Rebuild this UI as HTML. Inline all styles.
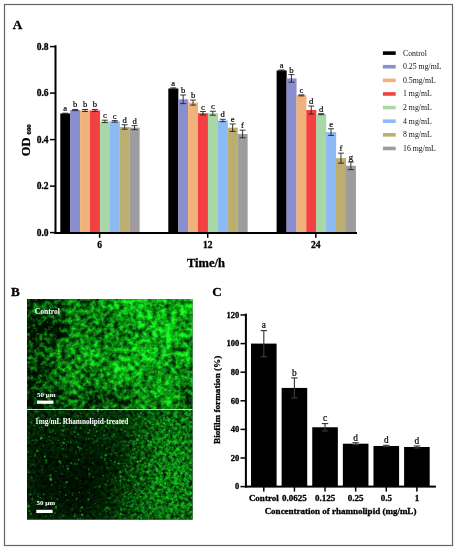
<!DOCTYPE html>
<html><head><meta charset="utf-8"><title>Figure</title>
<style>
html,body{margin:0;padding:0;background:#fff;}
body{width:456px;height:550px;overflow:hidden;}
svg{display:block;font-family:'Liberation Serif', 'DejaVu Serif', serif;}
</style></head><body>
<svg width="456" height="550" viewBox="0 0 456 550">
<rect x="0" y="0" width="456" height="550" fill="#fff"/>
<defs>
<filter id="fTop" x="0" y="0" width="100%" height="100%" color-interpolation-filters="sRGB">
  <feTurbulence type="fractalNoise" baseFrequency="0.21" numOctaves="3" seed="11" result="n"/>
  <feColorMatrix in="n" type="matrix" values="1 0 0 0 0  1 0 0 0 0  1 0 0 0 0  0 0 0 0 1" result="t"/>
  <feTurbulence type="fractalNoise" baseFrequency="0.05" numOctaves="2" seed="4" result="n2"/>
  <feColorMatrix in="n2" type="matrix" values="0 1 0 0 0  0 1 0 0 0  0 1 0 0 0  0 0 0 0 1" result="t2"/>
  <feComposite in="SourceGraphic" in2="t2" operator="arithmetic" k1="0" k2="1.0" k3="0.4" k4="-0.2" result="s2"/>
  <feComposite in="s2" in2="t" operator="arithmetic" k1="0" k2="1.25" k3="1.75" k4="-0.98" result="v0"/>
  <feGaussianBlur in="v0" stdDeviation="0.55" result="v1"/>
  <feComposite in="v1" in2="s2" operator="arithmetic" k1="0" k2="0.8" k3="0.32" k4="-0.05" result="v"/>
  <feColorMatrix in="v" type="matrix" values="0 0.09 0 0 0.0  0 1 0 0 0.05  0 0.14 0 0 0.0  0 0 0 0 1"/>
</filter>
<filter id="hzg" x="-10%" y="-10%" width="120%" height="120%" color-interpolation-filters="sRGB"><feGaussianBlur stdDeviation="6"/></filter>
<filter id="hz" x="-10%" y="-10%" width="120%" height="120%" color-interpolation-filters="sRGB">
<feGaussianBlur stdDeviation="7" result="g"/>
<feTurbulence type="fractalNoise" baseFrequency="0.27" numOctaves="3" seed="21" result="n"/>
<feColorMatrix in="n" type="matrix" values="1 0 0 0 0  1 0 0 0 0  1 0 0 0 0  0 0 0 0 1" result="t"/>
<feComposite in="g" in2="t" operator="arithmetic" k1="3.0" k2="-0.5" k3="0" k4="0" result="m"/>
<feGaussianBlur in="m" stdDeviation="0.5"/>
</filter>
<filter id="b1" x="0" y="0" width="100%" height="100%" color-interpolation-filters="sRGB">
<feGaussianBlur stdDeviation="0.7" result="g"/>
<feTurbulence type="fractalNoise" baseFrequency="0.12" numOctaves="3" seed="8" result="n"/>
<feColorMatrix in="n" type="matrix" values="1 0 0 0 0  1 0 0 0 0  1 0 0 0 0  0 0 0 0 1" result="t"/>
<feComposite in="g" in2="t" operator="arithmetic" k1="2.6" k2="-0.3" k3="0" k4="0"/>
</filter>
<filter id="b2" x="-5%" y="-5%" width="110%" height="110%" color-interpolation-filters="sRGB"><feGaussianBlur stdDeviation="0.55"/></filter>
<clipPath id="cTop"><rect x="27.0" y="299.0" width="165.5" height="110.5"/></clipPath>
<clipPath id="cBot"><rect x="27.0" y="410.0" width="165.5" height="109.5"/></clipPath>
</defs>
<rect x="27.0" y="299.0" width="165.5" height="220.5" fill="#04200a"/>
<g clip-path="url(#cTop)">
<g filter="url(#fTop)">
<rect x="7" y="279" width="206" height="150" fill="#6a6a6a"/>
<g filter="url(#hzg)">
<rect x="6.5" y="278.5" width="41.7" height="43.0" fill="rgb(60,60,60)"/>
<rect x="47.2" y="278.5" width="21.7" height="43.0" fill="rgb(60,60,60)"/>
<rect x="67.9" y="278.5" width="21.7" height="43.0" fill="rgb(110,110,110)"/>
<rect x="88.6" y="278.5" width="21.7" height="43.0" fill="rgb(112,112,112)"/>
<rect x="109.2" y="278.5" width="21.7" height="43.0" fill="rgb(136,136,136)"/>
<rect x="129.9" y="278.5" width="21.7" height="43.0" fill="rgb(156,156,156)"/>
<rect x="150.6" y="278.5" width="21.7" height="43.0" fill="rgb(148,148,148)"/>
<rect x="171.3" y="278.5" width="41.7" height="43.0" fill="rgb(144,144,144)"/>
<rect x="6.5" y="320.5" width="41.7" height="23.0" fill="rgb(56,56,56)"/>
<rect x="47.2" y="320.5" width="21.7" height="23.0" fill="rgb(32,32,32)"/>
<rect x="67.9" y="320.5" width="21.7" height="23.0" fill="rgb(108,108,108)"/>
<rect x="88.6" y="320.5" width="21.7" height="23.0" fill="rgb(96,96,96)"/>
<rect x="109.2" y="320.5" width="21.7" height="23.0" fill="rgb(112,112,112)"/>
<rect x="129.9" y="320.5" width="21.7" height="23.0" fill="rgb(140,140,140)"/>
<rect x="150.6" y="320.5" width="21.7" height="23.0" fill="rgb(148,148,148)"/>
<rect x="171.3" y="320.5" width="41.7" height="23.0" fill="rgb(136,136,136)"/>
<rect x="6.5" y="342.5" width="41.7" height="23.0" fill="rgb(56,56,56)"/>
<rect x="47.2" y="342.5" width="21.7" height="23.0" fill="rgb(104,104,104)"/>
<rect x="67.9" y="342.5" width="21.7" height="23.0" fill="rgb(120,120,120)"/>
<rect x="88.6" y="342.5" width="21.7" height="23.0" fill="rgb(124,124,124)"/>
<rect x="109.2" y="342.5" width="21.7" height="23.0" fill="rgb(136,136,136)"/>
<rect x="129.9" y="342.5" width="21.7" height="23.0" fill="rgb(148,148,148)"/>
<rect x="150.6" y="342.5" width="21.7" height="23.0" fill="rgb(148,148,148)"/>
<rect x="171.3" y="342.5" width="41.7" height="23.0" fill="rgb(136,136,136)"/>
<rect x="6.5" y="364.5" width="41.7" height="23.0" fill="rgb(56,56,56)"/>
<rect x="47.2" y="364.5" width="21.7" height="23.0" fill="rgb(100,100,100)"/>
<rect x="67.9" y="364.5" width="21.7" height="23.0" fill="rgb(112,112,112)"/>
<rect x="88.6" y="364.5" width="21.7" height="23.0" fill="rgb(124,124,124)"/>
<rect x="109.2" y="364.5" width="21.7" height="23.0" fill="rgb(136,136,136)"/>
<rect x="129.9" y="364.5" width="21.7" height="23.0" fill="rgb(140,140,140)"/>
<rect x="150.6" y="364.5" width="21.7" height="23.0" fill="rgb(132,132,132)"/>
<rect x="171.3" y="364.5" width="41.7" height="23.0" fill="rgb(124,124,124)"/>
<rect x="6.5" y="386.5" width="41.7" height="43.0" fill="rgb(40,40,40)"/>
<rect x="47.2" y="386.5" width="21.7" height="43.0" fill="rgb(56,56,56)"/>
<rect x="67.9" y="386.5" width="21.7" height="43.0" fill="rgb(80,80,80)"/>
<rect x="88.6" y="386.5" width="21.7" height="43.0" fill="rgb(56,56,56)"/>
<rect x="109.2" y="386.5" width="21.7" height="43.0" fill="rgb(72,72,72)"/>
<rect x="129.9" y="386.5" width="21.7" height="43.0" fill="rgb(108,108,108)"/>
<rect x="150.6" y="386.5" width="21.7" height="43.0" fill="rgb(120,120,120)"/>
<rect x="171.3" y="386.5" width="41.7" height="43.0" fill="rgb(92,92,92)"/>
</g>
</g>
</g>
<g clip-path="url(#cBot)">
<g filter="url(#hz)">
<rect x="7" y="390" width="206" height="150" fill="#063209"/>
<rect x="26.5" y="409.5" width="21.7" height="22.9" fill="rgb(2,34,4)"/>
<rect x="47.2" y="409.5" width="21.7" height="22.9" fill="rgb(2,37,4)"/>
<rect x="67.9" y="409.5" width="21.7" height="22.9" fill="rgb(2,37,4)"/>
<rect x="88.6" y="409.5" width="21.7" height="22.9" fill="rgb(2,40,4)"/>
<rect x="109.2" y="409.5" width="21.7" height="22.9" fill="rgb(3,46,5)"/>
<rect x="129.9" y="409.5" width="21.7" height="22.9" fill="rgb(4,69,8)"/>
<rect x="150.6" y="409.5" width="21.7" height="22.9" fill="rgb(6,96,11)"/>
<rect x="171.3" y="409.5" width="21.7" height="22.9" fill="rgb(7,108,12)"/>
<rect x="26.5" y="431.4" width="21.7" height="22.9" fill="rgb(1,24,2)"/>
<rect x="47.2" y="431.4" width="21.7" height="22.9" fill="rgb(1,27,3)"/>
<rect x="67.9" y="431.4" width="21.7" height="22.9" fill="rgb(1,27,3)"/>
<rect x="88.6" y="431.4" width="21.7" height="22.9" fill="rgb(2,31,3)"/>
<rect x="109.2" y="431.4" width="21.7" height="22.9" fill="rgb(2,40,4)"/>
<rect x="129.9" y="431.4" width="21.7" height="22.9" fill="rgb(4,69,8)"/>
<rect x="150.6" y="431.4" width="21.7" height="22.9" fill="rgb(7,102,12)"/>
<rect x="171.3" y="431.4" width="21.7" height="22.9" fill="rgb(7,114,13)"/>
<rect x="26.5" y="453.3" width="21.7" height="22.9" fill="rgb(1,21,2)"/>
<rect x="47.2" y="453.3" width="21.7" height="22.9" fill="rgb(1,21,2)"/>
<rect x="67.9" y="453.3" width="21.7" height="22.9" fill="rgb(1,18,2)"/>
<rect x="88.6" y="453.3" width="21.7" height="22.9" fill="rgb(1,21,2)"/>
<rect x="109.2" y="453.3" width="21.7" height="22.9" fill="rgb(2,37,4)"/>
<rect x="129.9" y="453.3" width="21.7" height="22.9" fill="rgb(5,74,8)"/>
<rect x="150.6" y="453.3" width="21.7" height="22.9" fill="rgb(7,105,12)"/>
<rect x="171.3" y="453.3" width="21.7" height="22.9" fill="rgb(8,117,14)"/>
<rect x="26.5" y="475.2" width="21.7" height="22.9" fill="rgb(1,21,2)"/>
<rect x="47.2" y="475.2" width="21.7" height="22.9" fill="rgb(1,18,2)"/>
<rect x="67.9" y="475.2" width="21.7" height="22.9" fill="rgb(1,15,1)"/>
<rect x="88.6" y="475.2" width="21.7" height="22.9" fill="rgb(1,21,2)"/>
<rect x="109.2" y="475.2" width="21.7" height="22.9" fill="rgb(3,43,5)"/>
<rect x="129.9" y="475.2" width="21.7" height="22.9" fill="rgb(5,80,9)"/>
<rect x="150.6" y="475.2" width="21.7" height="22.9" fill="rgb(7,108,12)"/>
<rect x="171.3" y="475.2" width="21.7" height="22.9" fill="rgb(8,117,14)"/>
<rect x="26.5" y="497.1" width="21.7" height="22.9" fill="rgb(1,24,2)"/>
<rect x="47.2" y="497.1" width="21.7" height="22.9" fill="rgb(1,21,2)"/>
<rect x="67.9" y="497.1" width="21.7" height="22.9" fill="rgb(1,18,2)"/>
<rect x="88.6" y="497.1" width="21.7" height="22.9" fill="rgb(1,27,3)"/>
<rect x="109.2" y="497.1" width="21.7" height="22.9" fill="rgb(3,52,6)"/>
<rect x="129.9" y="497.1" width="21.7" height="22.9" fill="rgb(6,86,10)"/>
<rect x="150.6" y="497.1" width="21.7" height="22.9" fill="rgb(7,108,12)"/>
<rect x="171.3" y="497.1" width="21.7" height="22.9" fill="rgb(7,114,13)"/>
</g>
<g filter="url(#b2)" fill="#30d83c">
<circle cx="132.8" cy="412.7" r="0.5" opacity="0.47"/>
<circle cx="139.0" cy="507.7" r="0.7" opacity="0.13"/>
<circle cx="63.2" cy="465.3" r="0.5" opacity="0.43"/>
<circle cx="142.5" cy="447.3" r="1.2" opacity="0.28"/>
<circle cx="115.7" cy="516.6" r="0.8" opacity="0.52"/>
<circle cx="143.6" cy="415.0" r="0.6" opacity="0.16"/>
<circle cx="65.5" cy="421.1" r="0.8" opacity="0.30"/>
<circle cx="88.3" cy="432.9" r="1.2" opacity="0.43"/>
<circle cx="166.5" cy="495.0" r="0.5" opacity="0.27"/>
<circle cx="172.0" cy="444.5" r="0.6" opacity="0.56"/>
<circle cx="102.9" cy="439.0" r="0.8" opacity="0.25"/>
<circle cx="123.7" cy="508.3" r="0.5" opacity="0.60"/>
<circle cx="111.3" cy="420.0" r="0.5" opacity="0.42"/>
<circle cx="158.1" cy="456.2" r="0.6" opacity="0.60"/>
<circle cx="184.9" cy="505.9" r="0.7" opacity="0.21"/>
<circle cx="178.0" cy="505.3" r="0.8" opacity="0.41"/>
<circle cx="155.9" cy="468.1" r="0.6" opacity="0.13"/>
<circle cx="183.7" cy="419.4" r="0.5" opacity="0.49"/>
<circle cx="153.7" cy="424.1" r="0.8" opacity="0.25"/>
<circle cx="171.4" cy="456.3" r="0.7" opacity="0.47"/>
<circle cx="124.4" cy="435.2" r="0.5" opacity="0.42"/>
<circle cx="160.6" cy="430.8" r="0.7" opacity="0.32"/>
<circle cx="189.9" cy="420.8" r="0.6" opacity="0.53"/>
<circle cx="96.8" cy="440.5" r="1.2" opacity="0.33"/>
<circle cx="169.6" cy="470.3" r="1.2" opacity="0.52"/>
<circle cx="191.7" cy="470.9" r="0.5" opacity="0.26"/>
<circle cx="187.3" cy="473.4" r="1.0" opacity="0.15"/>
<circle cx="53.1" cy="515.2" r="0.5" opacity="0.41"/>
<circle cx="138.7" cy="435.8" r="1.1" opacity="0.24"/>
<circle cx="79.3" cy="492.3" r="0.7" opacity="0.60"/>
<circle cx="191.9" cy="418.0" r="0.5" opacity="0.57"/>
<circle cx="172.8" cy="506.3" r="0.5" opacity="0.52"/>
<circle cx="49.2" cy="422.6" r="0.8" opacity="0.25"/>
<circle cx="127.1" cy="488.6" r="0.8" opacity="0.25"/>
<circle cx="97.8" cy="411.1" r="1.1" opacity="0.55"/>
<circle cx="175.8" cy="433.0" r="0.5" opacity="0.49"/>
<circle cx="173.3" cy="454.5" r="0.5" opacity="0.57"/>
<circle cx="170.0" cy="498.8" r="1.0" opacity="0.17"/>
<circle cx="171.3" cy="504.0" r="1.0" opacity="0.34"/>
<circle cx="170.1" cy="515.9" r="0.8" opacity="0.31"/>
<circle cx="46.1" cy="516.3" r="1.2" opacity="0.25"/>
<circle cx="138.0" cy="449.9" r="0.9" opacity="0.28"/>
<circle cx="93.6" cy="442.4" r="0.6" opacity="0.57"/>
<circle cx="76.8" cy="470.0" r="0.6" opacity="0.33"/>
<circle cx="176.1" cy="497.2" r="0.5" opacity="0.37"/>
<circle cx="151.3" cy="483.7" r="0.5" opacity="0.13"/>
<circle cx="67.4" cy="481.8" r="1.0" opacity="0.49"/>
<circle cx="44.6" cy="456.6" r="1.2" opacity="0.37"/>
<circle cx="174.5" cy="477.1" r="0.7" opacity="0.52"/>
<circle cx="105.6" cy="438.4" r="0.8" opacity="0.49"/>
<circle cx="113.3" cy="478.6" r="0.5" opacity="0.26"/>
<circle cx="143.9" cy="417.0" r="0.8" opacity="0.32"/>
<circle cx="153.7" cy="451.7" r="0.6" opacity="0.48"/>
<circle cx="168.2" cy="514.4" r="1.0" opacity="0.38"/>
<circle cx="126.8" cy="434.1" r="0.7" opacity="0.13"/>
<circle cx="54.3" cy="461.2" r="0.8" opacity="0.13"/>
<circle cx="92.2" cy="471.8" r="0.8" opacity="0.19"/>
<circle cx="68.8" cy="419.0" r="0.7" opacity="0.60"/>
<circle cx="60.0" cy="412.2" r="0.5" opacity="0.44"/>
<circle cx="153.9" cy="428.4" r="1.0" opacity="0.17"/>
<circle cx="162.6" cy="515.6" r="0.5" opacity="0.27"/>
<circle cx="139.1" cy="514.9" r="0.9" opacity="0.16"/>
<circle cx="141.3" cy="478.7" r="1.0" opacity="0.53"/>
<circle cx="156.5" cy="448.0" r="0.6" opacity="0.36"/>
<circle cx="164.2" cy="487.5" r="0.9" opacity="0.58"/>
<circle cx="31.7" cy="503.2" r="0.5" opacity="0.50"/>
<circle cx="152.5" cy="485.6" r="0.7" opacity="0.50"/>
<circle cx="68.6" cy="423.2" r="0.5" opacity="0.38"/>
<circle cx="153.1" cy="430.3" r="0.7" opacity="0.47"/>
<circle cx="188.6" cy="467.4" r="0.5" opacity="0.21"/>
<circle cx="64.6" cy="429.6" r="0.7" opacity="0.25"/>
<circle cx="188.2" cy="470.6" r="0.5" opacity="0.54"/>
<circle cx="104.7" cy="458.2" r="0.5" opacity="0.57"/>
<circle cx="39.3" cy="478.9" r="0.5" opacity="0.39"/>
<circle cx="77.3" cy="518.8" r="1.0" opacity="0.41"/>
<circle cx="157.9" cy="434.7" r="0.7" opacity="0.33"/>
<circle cx="169.4" cy="518.4" r="0.8" opacity="0.41"/>
<circle cx="149.5" cy="513.8" r="0.5" opacity="0.44"/>
<circle cx="53.0" cy="429.0" r="0.5" opacity="0.34"/>
<circle cx="125.3" cy="441.9" r="0.9" opacity="0.46"/>
<circle cx="157.4" cy="478.4" r="1.2" opacity="0.32"/>
<circle cx="163.8" cy="417.8" r="0.6" opacity="0.48"/>
<circle cx="121.2" cy="441.6" r="0.9" opacity="0.46"/>
<circle cx="183.0" cy="464.8" r="0.5" opacity="0.14"/>
<circle cx="98.5" cy="445.3" r="0.5" opacity="0.58"/>
<circle cx="192.4" cy="483.6" r="0.5" opacity="0.48"/>
<circle cx="108.4" cy="420.0" r="0.6" opacity="0.44"/>
<circle cx="169.0" cy="446.1" r="0.6" opacity="0.57"/>
<circle cx="161.6" cy="470.2" r="0.6" opacity="0.28"/>
<circle cx="187.6" cy="454.3" r="1.2" opacity="0.44"/>
<circle cx="116.8" cy="455.3" r="0.6" opacity="0.48"/>
<circle cx="130.5" cy="493.2" r="0.8" opacity="0.57"/>
<circle cx="99.5" cy="486.5" r="1.2" opacity="0.41"/>
<circle cx="178.1" cy="460.5" r="1.0" opacity="0.36"/>
<circle cx="145.6" cy="465.7" r="1.0" opacity="0.59"/>
<circle cx="162.8" cy="441.0" r="0.8" opacity="0.60"/>
<circle cx="102.4" cy="445.2" r="0.9" opacity="0.39"/>
<circle cx="65.7" cy="494.9" r="0.9" opacity="0.46"/>
<circle cx="161.3" cy="452.3" r="1.0" opacity="0.59"/>
<circle cx="152.7" cy="505.5" r="0.5" opacity="0.42"/>
<circle cx="179.4" cy="519.2" r="0.7" opacity="0.17"/>
<circle cx="131.9" cy="505.5" r="0.9" opacity="0.55"/>
<circle cx="120.7" cy="496.8" r="0.5" opacity="0.54"/>
<circle cx="176.2" cy="484.2" r="0.7" opacity="0.29"/>
<circle cx="109.2" cy="509.0" r="1.0" opacity="0.41"/>
<circle cx="134.0" cy="443.8" r="0.8" opacity="0.47"/>
<circle cx="163.1" cy="513.0" r="0.5" opacity="0.13"/>
<circle cx="177.5" cy="443.1" r="0.5" opacity="0.57"/>
<circle cx="77.4" cy="463.9" r="1.1" opacity="0.19"/>
<circle cx="183.6" cy="455.9" r="0.5" opacity="0.32"/>
<circle cx="184.5" cy="413.6" r="0.7" opacity="0.58"/>
<circle cx="168.6" cy="420.9" r="0.8" opacity="0.59"/>
<circle cx="86.4" cy="453.6" r="0.5" opacity="0.53"/>
<circle cx="38.4" cy="493.8" r="0.5" opacity="0.54"/>
<circle cx="27.5" cy="504.0" r="0.5" opacity="0.24"/>
<circle cx="55.9" cy="482.4" r="0.5" opacity="0.50"/>
<circle cx="66.4" cy="445.5" r="0.5" opacity="0.48"/>
<circle cx="155.8" cy="466.2" r="0.7" opacity="0.57"/>
<circle cx="38.1" cy="501.1" r="0.5" opacity="0.47"/>
<circle cx="161.3" cy="470.9" r="0.8" opacity="0.28"/>
<circle cx="187.3" cy="475.7" r="0.8" opacity="0.22"/>
<circle cx="135.7" cy="434.6" r="1.1" opacity="0.30"/>
<circle cx="128.5" cy="480.4" r="1.2" opacity="0.52"/>
<circle cx="78.1" cy="447.2" r="1.1" opacity="0.39"/>
<circle cx="146.4" cy="495.1" r="0.5" opacity="0.15"/>
<circle cx="28.3" cy="443.0" r="0.5" opacity="0.24"/>
<circle cx="38.9" cy="504.4" r="0.5" opacity="0.56"/>
<circle cx="169.7" cy="473.0" r="0.9" opacity="0.32"/>
<circle cx="161.9" cy="435.9" r="0.5" opacity="0.41"/>
<circle cx="152.8" cy="481.8" r="1.0" opacity="0.36"/>
<circle cx="151.9" cy="493.2" r="1.2" opacity="0.39"/>
<circle cx="130.8" cy="426.5" r="0.7" opacity="0.27"/>
<circle cx="78.4" cy="459.5" r="1.0" opacity="0.16"/>
<circle cx="170.0" cy="503.7" r="0.7" opacity="0.34"/>
<circle cx="80.2" cy="462.1" r="0.5" opacity="0.17"/>
<circle cx="175.8" cy="447.6" r="0.7" opacity="0.20"/>
<circle cx="177.0" cy="505.6" r="0.8" opacity="0.19"/>
<circle cx="149.3" cy="485.1" r="0.8" opacity="0.32"/>
<circle cx="86.9" cy="449.7" r="0.5" opacity="0.57"/>
<circle cx="107.5" cy="434.8" r="0.5" opacity="0.53"/>
<circle cx="173.2" cy="414.1" r="1.0" opacity="0.18"/>
<circle cx="154.6" cy="498.6" r="0.7" opacity="0.32"/>
<circle cx="138.9" cy="436.0" r="0.6" opacity="0.48"/>
<circle cx="159.6" cy="425.2" r="0.8" opacity="0.54"/>
<circle cx="72.1" cy="509.1" r="0.7" opacity="0.57"/>
<circle cx="134.6" cy="496.7" r="0.6" opacity="0.52"/>
<circle cx="101.2" cy="410.6" r="0.5" opacity="0.52"/>
<circle cx="128.8" cy="436.3" r="0.9" opacity="0.16"/>
<circle cx="188.3" cy="417.4" r="0.7" opacity="0.59"/>
<circle cx="132.2" cy="517.4" r="0.5" opacity="0.50"/>
<circle cx="154.7" cy="490.5" r="0.5" opacity="0.38"/>
<circle cx="102.7" cy="442.1" r="0.5" opacity="0.14"/>
<circle cx="170.3" cy="446.3" r="0.6" opacity="0.55"/>
<circle cx="150.0" cy="508.0" r="1.2" opacity="0.36"/>
<circle cx="159.6" cy="489.6" r="0.8" opacity="0.51"/>
<circle cx="117.3" cy="445.2" r="0.9" opacity="0.27"/>
<circle cx="189.2" cy="513.8" r="0.8" opacity="0.29"/>
<circle cx="79.9" cy="448.0" r="0.8" opacity="0.55"/>
<circle cx="132.5" cy="496.9" r="0.5" opacity="0.22"/>
<circle cx="50.0" cy="496.5" r="0.8" opacity="0.30"/>
<circle cx="160.0" cy="470.4" r="0.5" opacity="0.27"/>
<circle cx="192.4" cy="488.7" r="1.0" opacity="0.52"/>
<circle cx="172.3" cy="495.4" r="0.5" opacity="0.58"/>
<circle cx="98.6" cy="509.7" r="0.5" opacity="0.19"/>
<circle cx="167.0" cy="437.4" r="0.8" opacity="0.18"/>
<circle cx="54.9" cy="513.1" r="0.9" opacity="0.47"/>
<circle cx="163.6" cy="413.1" r="0.8" opacity="0.40"/>
<circle cx="134.8" cy="494.0" r="0.8" opacity="0.36"/>
<circle cx="76.2" cy="418.0" r="0.7" opacity="0.35"/>
<circle cx="188.4" cy="424.3" r="0.8" opacity="0.27"/>
<circle cx="104.2" cy="439.3" r="0.5" opacity="0.26"/>
<circle cx="170.2" cy="427.5" r="0.8" opacity="0.27"/>
<circle cx="153.3" cy="464.6" r="0.7" opacity="0.27"/>
<circle cx="187.0" cy="433.6" r="0.5" opacity="0.36"/>
<circle cx="173.0" cy="481.6" r="0.7" opacity="0.53"/>
<circle cx="153.4" cy="450.1" r="0.8" opacity="0.21"/>
<circle cx="182.4" cy="492.7" r="0.7" opacity="0.36"/>
<circle cx="115.1" cy="487.6" r="1.0" opacity="0.30"/>
<circle cx="138.5" cy="517.3" r="1.0" opacity="0.47"/>
<circle cx="140.9" cy="412.9" r="1.2" opacity="0.50"/>
<circle cx="129.6" cy="502.1" r="0.9" opacity="0.14"/>
<circle cx="183.9" cy="422.0" r="0.6" opacity="0.19"/>
<circle cx="179.3" cy="505.6" r="0.5" opacity="0.19"/>
<circle cx="114.0" cy="444.4" r="1.1" opacity="0.28"/>
<circle cx="158.6" cy="439.9" r="0.9" opacity="0.30"/>
<circle cx="160.2" cy="441.8" r="0.9" opacity="0.29"/>
<circle cx="114.9" cy="479.9" r="0.6" opacity="0.46"/>
<circle cx="43.6" cy="494.4" r="0.8" opacity="0.57"/>
<circle cx="56.0" cy="506.6" r="1.1" opacity="0.60"/>
<circle cx="28.5" cy="472.2" r="1.2" opacity="0.26"/>
<circle cx="190.7" cy="469.5" r="1.2" opacity="0.53"/>
<circle cx="104.5" cy="431.1" r="0.5" opacity="0.34"/>
<circle cx="163.9" cy="466.4" r="0.9" opacity="0.21"/>
<circle cx="184.9" cy="443.1" r="0.5" opacity="0.43"/>
<circle cx="141.7" cy="416.8" r="0.6" opacity="0.31"/>
<circle cx="171.5" cy="419.0" r="0.9" opacity="0.16"/>
<circle cx="110.7" cy="472.7" r="0.6" opacity="0.37"/>
<circle cx="150.4" cy="473.3" r="0.6" opacity="0.15"/>
<circle cx="191.5" cy="512.3" r="1.2" opacity="0.14"/>
<circle cx="188.9" cy="480.7" r="1.2" opacity="0.30"/>
<circle cx="170.9" cy="509.3" r="0.9" opacity="0.44"/>
<circle cx="147.5" cy="434.4" r="0.5" opacity="0.26"/>
<circle cx="138.5" cy="469.6" r="1.0" opacity="0.24"/>
<circle cx="29.6" cy="432.6" r="0.5" opacity="0.41"/>
<circle cx="93.6" cy="435.7" r="1.1" opacity="0.15"/>
<circle cx="148.1" cy="444.9" r="0.9" opacity="0.27"/>
<circle cx="63.6" cy="442.9" r="1.2" opacity="0.54"/>
<circle cx="177.9" cy="478.5" r="0.7" opacity="0.59"/>
<circle cx="182.8" cy="483.5" r="0.6" opacity="0.32"/>
<circle cx="49.2" cy="436.6" r="0.8" opacity="0.56"/>
<circle cx="126.8" cy="505.7" r="1.0" opacity="0.47"/>
<circle cx="82.1" cy="514.8" r="1.2" opacity="0.58"/>
<circle cx="178.5" cy="470.5" r="0.6" opacity="0.38"/>
<circle cx="63.6" cy="426.0" r="1.2" opacity="0.40"/>
<circle cx="135.3" cy="485.0" r="1.0" opacity="0.58"/>
<circle cx="133.2" cy="463.7" r="1.0" opacity="0.20"/>
<circle cx="116.7" cy="480.3" r="0.5" opacity="0.53"/>
<circle cx="183.4" cy="483.2" r="0.6" opacity="0.52"/>
<circle cx="65.3" cy="487.4" r="0.7" opacity="0.30"/>
<circle cx="107.0" cy="463.4" r="0.8" opacity="0.13"/>
<circle cx="160.4" cy="509.6" r="0.5" opacity="0.19"/>
<circle cx="36.3" cy="411.0" r="0.7" opacity="0.33"/>
<circle cx="42.8" cy="467.8" r="0.5" opacity="0.54"/>
<circle cx="173.9" cy="462.1" r="0.5" opacity="0.56"/>
<circle cx="175.8" cy="471.7" r="1.2" opacity="0.27"/>
<circle cx="186.1" cy="474.3" r="0.9" opacity="0.31"/>
<circle cx="39.7" cy="427.8" r="1.0" opacity="0.31"/>
<circle cx="175.4" cy="446.3" r="0.5" opacity="0.59"/>
<circle cx="92.7" cy="494.7" r="0.6" opacity="0.60"/>
<circle cx="145.0" cy="419.0" r="0.9" opacity="0.42"/>
<circle cx="149.4" cy="444.7" r="0.5" opacity="0.27"/>
<circle cx="86.6" cy="439.5" r="0.5" opacity="0.34"/>
<circle cx="118.8" cy="454.7" r="0.6" opacity="0.16"/>
<circle cx="126.0" cy="445.5" r="0.6" opacity="0.31"/>
<circle cx="188.9" cy="472.6" r="0.6" opacity="0.19"/>
<circle cx="76.8" cy="464.0" r="0.7" opacity="0.32"/>
<circle cx="107.1" cy="418.4" r="0.5" opacity="0.42"/>
<circle cx="125.3" cy="431.4" r="0.6" opacity="0.58"/>
<circle cx="169.2" cy="516.7" r="0.6" opacity="0.57"/>
<circle cx="187.3" cy="441.9" r="0.7" opacity="0.40"/>
<circle cx="144.2" cy="458.0" r="0.9" opacity="0.51"/>
<circle cx="158.7" cy="454.8" r="0.8" opacity="0.24"/>
<circle cx="98.2" cy="411.2" r="0.7" opacity="0.37"/>
<circle cx="109.8" cy="447.8" r="0.5" opacity="0.32"/>
<circle cx="76.7" cy="498.7" r="1.1" opacity="0.43"/>
<circle cx="67.4" cy="429.1" r="0.8" opacity="0.58"/>
<circle cx="65.4" cy="454.4" r="0.8" opacity="0.33"/>
<circle cx="31.8" cy="477.2" r="0.8" opacity="0.31"/>
<circle cx="160.8" cy="416.9" r="1.1" opacity="0.21"/>
<circle cx="169.8" cy="467.8" r="0.8" opacity="0.41"/>
<circle cx="76.2" cy="477.3" r="0.5" opacity="0.18"/>
<circle cx="111.5" cy="455.8" r="0.6" opacity="0.21"/>
<circle cx="192.5" cy="470.8" r="0.5" opacity="0.27"/>
<circle cx="186.5" cy="465.3" r="0.9" opacity="0.32"/>
<circle cx="166.0" cy="463.5" r="0.5" opacity="0.49"/>
<circle cx="153.8" cy="470.2" r="0.5" opacity="0.49"/>
<circle cx="54.5" cy="425.2" r="0.5" opacity="0.15"/>
<circle cx="153.0" cy="484.0" r="0.8" opacity="0.25"/>
<circle cx="172.7" cy="420.2" r="0.6" opacity="0.57"/>
<circle cx="63.1" cy="457.0" r="0.5" opacity="0.52"/>
<circle cx="60.5" cy="485.4" r="0.9" opacity="0.20"/>
<circle cx="181.4" cy="440.0" r="0.5" opacity="0.30"/>
<circle cx="176.6" cy="428.1" r="0.6" opacity="0.46"/>
<circle cx="27.2" cy="462.2" r="0.5" opacity="0.45"/>
<circle cx="190.5" cy="456.2" r="0.5" opacity="0.30"/>
<circle cx="147.9" cy="421.2" r="1.1" opacity="0.19"/>
<circle cx="155.0" cy="492.5" r="1.2" opacity="0.19"/>
<circle cx="169.3" cy="419.5" r="1.0" opacity="0.40"/>
<circle cx="50.1" cy="440.3" r="0.8" opacity="0.41"/>
<circle cx="167.3" cy="482.1" r="0.7" opacity="0.36"/>
<circle cx="150.8" cy="442.4" r="1.1" opacity="0.58"/>
<circle cx="190.3" cy="512.3" r="1.1" opacity="0.39"/>
<circle cx="185.0" cy="494.4" r="0.5" opacity="0.25"/>
<circle cx="95.8" cy="486.8" r="0.7" opacity="0.42"/>
<circle cx="147.8" cy="502.7" r="0.5" opacity="0.33"/>
<circle cx="149.8" cy="491.1" r="0.9" opacity="0.46"/>
<circle cx="156.6" cy="488.9" r="0.5" opacity="0.49"/>
<circle cx="146.6" cy="435.0" r="0.5" opacity="0.53"/>
<circle cx="146.2" cy="439.7" r="0.6" opacity="0.36"/>
<circle cx="189.4" cy="514.5" r="0.7" opacity="0.26"/>
<circle cx="166.8" cy="445.8" r="0.5" opacity="0.22"/>
<circle cx="152.9" cy="436.8" r="0.6" opacity="0.23"/>
<circle cx="184.4" cy="410.2" r="1.1" opacity="0.47"/>
<circle cx="175.5" cy="466.9" r="0.6" opacity="0.59"/>
<circle cx="41.1" cy="420.5" r="1.0" opacity="0.16"/>
<circle cx="159.5" cy="486.7" r="0.6" opacity="0.25"/>
<circle cx="123.8" cy="427.0" r="0.7" opacity="0.32"/>
<circle cx="115.7" cy="515.6" r="0.6" opacity="0.25"/>
<circle cx="163.8" cy="486.3" r="1.1" opacity="0.28"/>
<circle cx="112.0" cy="484.2" r="1.2" opacity="0.13"/>
<circle cx="164.3" cy="446.3" r="0.7" opacity="0.20"/>
<circle cx="122.0" cy="500.0" r="0.5" opacity="0.45"/>
<circle cx="55.6" cy="433.5" r="0.6" opacity="0.54"/>
<circle cx="37.1" cy="440.6" r="0.5" opacity="0.54"/>
<circle cx="178.0" cy="465.0" r="0.5" opacity="0.27"/>
<circle cx="162.1" cy="510.4" r="1.2" opacity="0.23"/>
<circle cx="167.1" cy="497.3" r="1.1" opacity="0.53"/>
<circle cx="142.5" cy="510.1" r="0.9" opacity="0.57"/>
<circle cx="120.3" cy="471.7" r="1.2" opacity="0.54"/>
<circle cx="41.9" cy="435.5" r="0.7" opacity="0.12"/>
<circle cx="178.9" cy="432.1" r="0.9" opacity="0.56"/>
<circle cx="166.7" cy="445.4" r="0.8" opacity="0.56"/>
<circle cx="92.5" cy="421.1" r="0.5" opacity="0.20"/>
<circle cx="63.9" cy="474.5" r="0.6" opacity="0.45"/>
<circle cx="186.7" cy="413.5" r="1.2" opacity="0.58"/>
<circle cx="173.7" cy="458.9" r="0.5" opacity="0.15"/>
<circle cx="69.5" cy="421.8" r="0.6" opacity="0.47"/>
<circle cx="187.4" cy="506.9" r="0.6" opacity="0.38"/>
<circle cx="134.7" cy="485.2" r="0.5" opacity="0.53"/>
<circle cx="54.3" cy="507.4" r="0.5" opacity="0.22"/>
<circle cx="147.8" cy="439.0" r="0.5" opacity="0.14"/>
<circle cx="121.6" cy="502.0" r="0.6" opacity="0.33"/>
<circle cx="60.0" cy="412.8" r="0.6" opacity="0.16"/>
<circle cx="166.6" cy="443.8" r="0.7" opacity="0.44"/>
<circle cx="42.1" cy="469.6" r="1.1" opacity="0.30"/>
<circle cx="64.4" cy="439.4" r="1.0" opacity="0.44"/>
<circle cx="187.7" cy="474.6" r="1.1" opacity="0.51"/>
<circle cx="139.1" cy="477.9" r="1.0" opacity="0.20"/>
<circle cx="178.3" cy="417.3" r="0.6" opacity="0.28"/>
<circle cx="157.2" cy="478.2" r="0.6" opacity="0.32"/>
<circle cx="182.5" cy="511.3" r="0.5" opacity="0.26"/>
<circle cx="33.2" cy="440.2" r="0.8" opacity="0.45"/>
<circle cx="163.7" cy="439.5" r="0.8" opacity="0.21"/>
<circle cx="112.3" cy="427.4" r="0.7" opacity="0.19"/>
<circle cx="167.9" cy="506.3" r="0.5" opacity="0.52"/>
<circle cx="165.5" cy="437.3" r="1.1" opacity="0.46"/>
<circle cx="132.2" cy="423.6" r="0.6" opacity="0.41"/>
<circle cx="151.0" cy="485.4" r="0.6" opacity="0.20"/>
<circle cx="134.1" cy="484.2" r="0.6" opacity="0.13"/>
<circle cx="156.1" cy="494.0" r="1.1" opacity="0.43"/>
<circle cx="126.5" cy="410.9" r="1.0" opacity="0.27"/>
<circle cx="187.0" cy="480.4" r="0.6" opacity="0.29"/>
<circle cx="163.4" cy="453.5" r="0.7" opacity="0.44"/>
<circle cx="166.6" cy="451.0" r="0.8" opacity="0.26"/>
<circle cx="133.0" cy="504.3" r="0.9" opacity="0.55"/>
<circle cx="166.1" cy="506.0" r="0.5" opacity="0.18"/>
<circle cx="107.7" cy="479.1" r="0.8" opacity="0.12"/>
<circle cx="72.3" cy="493.4" r="1.0" opacity="0.35"/>
<circle cx="153.4" cy="419.6" r="0.8" opacity="0.31"/>
<circle cx="186.8" cy="452.0" r="0.5" opacity="0.30"/>
<circle cx="136.6" cy="481.6" r="0.9" opacity="0.32"/>
<circle cx="71.7" cy="476.3" r="1.0" opacity="0.17"/>
<circle cx="146.0" cy="422.9" r="0.5" opacity="0.22"/>
<circle cx="33.5" cy="464.4" r="1.2" opacity="0.28"/>
<circle cx="165.2" cy="483.3" r="0.5" opacity="0.37"/>
<circle cx="146.7" cy="421.1" r="0.5" opacity="0.59"/>
<circle cx="76.0" cy="460.8" r="0.5" opacity="0.14"/>
<circle cx="129.9" cy="506.2" r="1.0" opacity="0.21"/>
<circle cx="134.4" cy="497.3" r="0.9" opacity="0.15"/>
<circle cx="183.0" cy="427.5" r="0.8" opacity="0.51"/>
<circle cx="139.3" cy="429.8" r="0.6" opacity="0.13"/>
<circle cx="48.6" cy="510.8" r="0.6" opacity="0.14"/>
<circle cx="139.2" cy="494.0" r="0.8" opacity="0.59"/>
<circle cx="190.5" cy="416.0" r="0.5" opacity="0.53"/>
<circle cx="168.0" cy="505.2" r="0.7" opacity="0.24"/>
<circle cx="187.6" cy="415.5" r="0.8" opacity="0.31"/>
<circle cx="87.1" cy="415.9" r="0.7" opacity="0.39"/>
<circle cx="186.6" cy="442.0" r="0.9" opacity="0.14"/>
<circle cx="173.1" cy="465.2" r="1.2" opacity="0.56"/>
<circle cx="187.6" cy="459.6" r="0.6" opacity="0.46"/>
<circle cx="150.8" cy="502.1" r="1.1" opacity="0.51"/>
<circle cx="113.5" cy="412.8" r="0.9" opacity="0.22"/>
<circle cx="151.2" cy="427.6" r="0.5" opacity="0.52"/>
<circle cx="32.3" cy="499.1" r="1.1" opacity="0.47"/>
<circle cx="170.1" cy="491.3" r="0.5" opacity="0.50"/>
<circle cx="159.2" cy="441.5" r="1.2" opacity="0.31"/>
<circle cx="185.3" cy="516.9" r="0.8" opacity="0.13"/>
<circle cx="186.6" cy="442.2" r="0.9" opacity="0.21"/>
<circle cx="97.9" cy="470.9" r="0.8" opacity="0.24"/>
<circle cx="81.7" cy="487.7" r="0.5" opacity="0.27"/>
<circle cx="63.4" cy="430.1" r="0.7" opacity="0.32"/>
<circle cx="115.9" cy="420.1" r="0.5" opacity="0.28"/>
<circle cx="189.4" cy="411.0" r="0.7" opacity="0.55"/>
<circle cx="183.4" cy="452.3" r="0.6" opacity="0.56"/>
<circle cx="155.0" cy="504.7" r="0.5" opacity="0.38"/>
<circle cx="119.4" cy="473.0" r="0.5" opacity="0.31"/>
<circle cx="131.3" cy="457.4" r="0.9" opacity="0.38"/>
<circle cx="123.9" cy="486.7" r="1.2" opacity="0.17"/>
<circle cx="157.2" cy="443.0" r="1.0" opacity="0.33"/>
<circle cx="158.6" cy="489.9" r="1.2" opacity="0.39"/>
<circle cx="118.9" cy="423.5" r="0.8" opacity="0.38"/>
<circle cx="183.7" cy="443.4" r="1.1" opacity="0.29"/>
<circle cx="191.6" cy="460.5" r="0.6" opacity="0.15"/>
<circle cx="27.8" cy="437.0" r="0.9" opacity="0.33"/>
<circle cx="172.3" cy="460.7" r="0.6" opacity="0.38"/>
<circle cx="169.1" cy="425.3" r="0.5" opacity="0.55"/>
<circle cx="39.7" cy="418.3" r="0.7" opacity="0.13"/>
<circle cx="177.0" cy="470.4" r="1.2" opacity="0.35"/>
<circle cx="155.3" cy="450.1" r="1.0" opacity="0.47"/>
<circle cx="167.3" cy="498.3" r="0.5" opacity="0.37"/>
<circle cx="107.0" cy="449.3" r="0.7" opacity="0.15"/>
<circle cx="88.1" cy="414.7" r="1.1" opacity="0.29"/>
<circle cx="104.7" cy="459.8" r="1.2" opacity="0.28"/>
<circle cx="165.2" cy="438.8" r="0.5" opacity="0.43"/>
<circle cx="110.1" cy="425.2" r="0.5" opacity="0.43"/>
<circle cx="145.7" cy="423.0" r="1.0" opacity="0.47"/>
<circle cx="106.7" cy="462.4" r="0.5" opacity="0.52"/>
<circle cx="53.7" cy="478.9" r="0.8" opacity="0.15"/>
<circle cx="126.2" cy="471.7" r="0.9" opacity="0.44"/>
<circle cx="191.3" cy="505.0" r="1.0" opacity="0.41"/>
<circle cx="158.5" cy="499.8" r="0.9" opacity="0.25"/>
<circle cx="146.9" cy="447.5" r="0.8" opacity="0.23"/>
<circle cx="90.8" cy="421.9" r="1.1" opacity="0.36"/>
<circle cx="96.5" cy="426.4" r="0.7" opacity="0.42"/>
<circle cx="46.4" cy="462.8" r="0.8" opacity="0.52"/>
<circle cx="175.4" cy="494.8" r="0.7" opacity="0.30"/>
<circle cx="159.8" cy="496.5" r="0.8" opacity="0.48"/>
<circle cx="153.0" cy="486.3" r="0.5" opacity="0.35"/>
<circle cx="172.1" cy="454.7" r="0.9" opacity="0.50"/>
<circle cx="122.7" cy="422.9" r="0.9" opacity="0.45"/>
<circle cx="79.3" cy="449.7" r="0.9" opacity="0.24"/>
<circle cx="168.5" cy="456.4" r="0.6" opacity="0.45"/>
<circle cx="136.1" cy="491.9" r="0.9" opacity="0.20"/>
<circle cx="53.6" cy="515.6" r="0.5" opacity="0.19"/>
<circle cx="180.2" cy="457.7" r="0.5" opacity="0.16"/>
<circle cx="133.0" cy="458.1" r="0.9" opacity="0.51"/>
<circle cx="112.4" cy="435.4" r="0.5" opacity="0.23"/>
<circle cx="156.0" cy="448.7" r="0.8" opacity="0.37"/>
<circle cx="149.0" cy="417.5" r="0.6" opacity="0.52"/>
<circle cx="180.9" cy="473.0" r="0.6" opacity="0.17"/>
<circle cx="161.6" cy="473.0" r="1.2" opacity="0.39"/>
<circle cx="31.5" cy="422.7" r="0.8" opacity="0.60"/>
<circle cx="139.0" cy="435.2" r="1.2" opacity="0.37"/>
<circle cx="171.4" cy="432.6" r="0.5" opacity="0.42"/>
<circle cx="153.5" cy="469.3" r="0.7" opacity="0.42"/>
<circle cx="178.6" cy="440.7" r="0.8" opacity="0.15"/>
<circle cx="159.3" cy="462.4" r="0.7" opacity="0.31"/>
<circle cx="168.4" cy="440.6" r="0.5" opacity="0.40"/>
<circle cx="64.8" cy="420.9" r="0.5" opacity="0.33"/>
<circle cx="51.8" cy="498.2" r="0.7" opacity="0.60"/>
<circle cx="167.6" cy="466.6" r="1.0" opacity="0.26"/>
<circle cx="181.2" cy="438.2" r="0.5" opacity="0.54"/>
<circle cx="186.4" cy="431.8" r="0.9" opacity="0.20"/>
<circle cx="156.1" cy="448.9" r="0.7" opacity="0.47"/>
<circle cx="174.2" cy="451.7" r="0.8" opacity="0.19"/>
<circle cx="38.8" cy="427.7" r="0.6" opacity="0.26"/>
<circle cx="124.1" cy="515.7" r="0.5" opacity="0.13"/>
<circle cx="143.0" cy="418.8" r="0.5" opacity="0.15"/>
<circle cx="172.4" cy="470.1" r="0.6" opacity="0.49"/>
<circle cx="40.8" cy="438.7" r="0.9" opacity="0.55"/>
<circle cx="187.5" cy="486.4" r="0.8" opacity="0.42"/>
<circle cx="132.8" cy="443.9" r="0.7" opacity="0.51"/>
<circle cx="167.3" cy="447.7" r="0.5" opacity="0.56"/>
<circle cx="183.7" cy="462.2" r="0.7" opacity="0.26"/>
<circle cx="160.7" cy="485.0" r="0.9" opacity="0.51"/>
<circle cx="95.3" cy="503.5" r="0.6" opacity="0.43"/>
<circle cx="58.1" cy="412.1" r="0.7" opacity="0.21"/>
<circle cx="147.3" cy="435.5" r="0.7" opacity="0.28"/>
<circle cx="166.6" cy="514.2" r="1.0" opacity="0.15"/>
<circle cx="162.3" cy="500.7" r="1.0" opacity="0.24"/>
<circle cx="139.8" cy="444.2" r="0.8" opacity="0.14"/>
<circle cx="182.1" cy="467.0" r="0.8" opacity="0.22"/>
<circle cx="173.9" cy="504.6" r="0.5" opacity="0.42"/>
<circle cx="80.7" cy="428.3" r="0.5" opacity="0.50"/>
<circle cx="41.8" cy="427.3" r="0.8" opacity="0.57"/>
<circle cx="192.0" cy="478.5" r="0.8" opacity="0.46"/>
<circle cx="158.0" cy="423.8" r="1.2" opacity="0.50"/>
<circle cx="152.2" cy="498.2" r="0.5" opacity="0.45"/>
<circle cx="142.4" cy="430.8" r="0.6" opacity="0.47"/>
<circle cx="118.8" cy="417.5" r="0.6" opacity="0.25"/>
<circle cx="89.7" cy="430.3" r="1.1" opacity="0.49"/>
<circle cx="80.4" cy="480.2" r="0.7" opacity="0.15"/>
<circle cx="60.4" cy="463.1" r="0.8" opacity="0.52"/>
<circle cx="38.7" cy="511.9" r="0.7" opacity="0.55"/>
<circle cx="40.2" cy="497.7" r="0.8" opacity="0.57"/>
<circle cx="163.3" cy="439.1" r="0.5" opacity="0.27"/>
<circle cx="183.3" cy="515.2" r="0.9" opacity="0.38"/>
<circle cx="173.1" cy="428.3" r="0.6" opacity="0.28"/>
<circle cx="189.7" cy="475.2" r="1.2" opacity="0.26"/>
<circle cx="180.2" cy="426.9" r="0.6" opacity="0.19"/>
<circle cx="161.2" cy="420.1" r="1.1" opacity="0.47"/>
<circle cx="146.8" cy="496.8" r="1.0" opacity="0.45"/>
<circle cx="170.6" cy="505.2" r="0.9" opacity="0.41"/>
<circle cx="35.2" cy="453.7" r="0.7" opacity="0.49"/>
<circle cx="107.7" cy="481.4" r="0.8" opacity="0.47"/>
<circle cx="80.5" cy="511.2" r="0.9" opacity="0.32"/>
<circle cx="129.0" cy="518.4" r="0.5" opacity="0.14"/>
<circle cx="162.4" cy="431.9" r="1.0" opacity="0.53"/>
<circle cx="29.3" cy="486.0" r="0.7" opacity="0.13"/>
<circle cx="157.6" cy="477.7" r="0.9" opacity="0.12"/>
<circle cx="136.2" cy="504.6" r="1.1" opacity="0.43"/>
<circle cx="102.8" cy="511.4" r="0.5" opacity="0.37"/>
<circle cx="82.2" cy="453.1" r="0.6" opacity="0.29"/>
<circle cx="128.4" cy="478.5" r="0.5" opacity="0.19"/>
<circle cx="187.6" cy="509.6" r="0.8" opacity="0.22"/>
<circle cx="169.8" cy="443.8" r="0.7" opacity="0.18"/>
<circle cx="191.8" cy="516.8" r="1.2" opacity="0.56"/>
<circle cx="72.3" cy="495.3" r="0.5" opacity="0.49"/>
<circle cx="49.8" cy="431.2" r="1.0" opacity="0.13"/>
<circle cx="190.6" cy="493.0" r="1.2" opacity="0.59"/>
<circle cx="170.5" cy="463.6" r="0.7" opacity="0.24"/>
<circle cx="149.9" cy="475.0" r="1.1" opacity="0.50"/>
<circle cx="112.4" cy="479.1" r="0.6" opacity="0.31"/>
<circle cx="96.9" cy="477.1" r="0.7" opacity="0.19"/>
<circle cx="164.3" cy="459.5" r="0.5" opacity="0.49"/>
<circle cx="182.2" cy="486.2" r="0.6" opacity="0.34"/>
<circle cx="145.9" cy="423.5" r="0.7" opacity="0.29"/>
<circle cx="120.6" cy="482.2" r="1.1" opacity="0.21"/>
<circle cx="144.8" cy="455.9" r="1.0" opacity="0.33"/>
<circle cx="130.7" cy="422.9" r="0.5" opacity="0.42"/>
<circle cx="119.3" cy="500.4" r="0.5" opacity="0.43"/>
<circle cx="35.1" cy="455.7" r="0.9" opacity="0.41"/>
<circle cx="181.2" cy="420.2" r="0.6" opacity="0.30"/>
<circle cx="142.2" cy="477.0" r="0.9" opacity="0.42"/>
<circle cx="190.4" cy="463.0" r="1.2" opacity="0.59"/>
<circle cx="114.0" cy="519.0" r="0.5" opacity="0.39"/>
<circle cx="189.1" cy="410.2" r="0.8" opacity="0.18"/>
<circle cx="132.5" cy="411.2" r="0.6" opacity="0.50"/>
<circle cx="146.9" cy="477.5" r="0.5" opacity="0.28"/>
<circle cx="158.9" cy="480.7" r="0.8" opacity="0.55"/>
<circle cx="159.3" cy="507.2" r="1.2" opacity="0.25"/>
<circle cx="166.4" cy="472.5" r="0.8" opacity="0.54"/>
<circle cx="151.4" cy="487.2" r="0.5" opacity="0.32"/>
<circle cx="184.3" cy="433.7" r="0.5" opacity="0.50"/>
<circle cx="155.7" cy="510.0" r="0.5" opacity="0.35"/>
<circle cx="182.2" cy="484.1" r="0.9" opacity="0.34"/>
<circle cx="145.1" cy="467.2" r="1.2" opacity="0.45"/>
<circle cx="174.6" cy="445.1" r="0.6" opacity="0.27"/>
<circle cx="100.0" cy="422.9" r="0.6" opacity="0.13"/>
<circle cx="130.1" cy="466.3" r="0.6" opacity="0.27"/>
<circle cx="83.1" cy="458.6" r="0.7" opacity="0.44"/>
<circle cx="165.4" cy="486.6" r="0.6" opacity="0.51"/>
<circle cx="145.0" cy="483.5" r="1.2" opacity="0.48"/>
<circle cx="179.2" cy="461.3" r="0.9" opacity="0.46"/>
<circle cx="104.0" cy="435.4" r="1.1" opacity="0.42"/>
<circle cx="178.1" cy="452.9" r="0.9" opacity="0.50"/>
<circle cx="173.0" cy="459.6" r="0.7" opacity="0.29"/>
<circle cx="127.0" cy="423.9" r="1.0" opacity="0.50"/>
<circle cx="124.8" cy="495.9" r="1.0" opacity="0.38"/>
<circle cx="66.1" cy="482.6" r="1.2" opacity="0.40"/>
<circle cx="118.9" cy="500.0" r="1.2" opacity="0.15"/>
<circle cx="176.5" cy="479.7" r="0.5" opacity="0.19"/>
<circle cx="121.4" cy="510.0" r="1.2" opacity="0.33"/>
<circle cx="189.6" cy="447.7" r="0.5" opacity="0.59"/>
<circle cx="93.9" cy="424.0" r="0.6" opacity="0.38"/>
<circle cx="137.9" cy="424.7" r="0.5" opacity="0.47"/>
<circle cx="167.1" cy="435.9" r="0.6" opacity="0.38"/>
<circle cx="143.7" cy="422.4" r="0.9" opacity="0.19"/>
<circle cx="155.9" cy="460.9" r="1.1" opacity="0.16"/>
<circle cx="155.8" cy="461.3" r="0.7" opacity="0.47"/>
<circle cx="151.0" cy="489.6" r="0.5" opacity="0.35"/>
<circle cx="160.9" cy="478.4" r="0.5" opacity="0.36"/>
<circle cx="167.9" cy="440.4" r="0.6" opacity="0.53"/>
<circle cx="29.4" cy="422.2" r="0.8" opacity="0.19"/>
<circle cx="169.7" cy="447.5" r="0.5" opacity="0.57"/>
<circle cx="154.5" cy="436.1" r="0.8" opacity="0.22"/>
<circle cx="152.0" cy="422.7" r="0.6" opacity="0.26"/>
<circle cx="150.5" cy="492.4" r="0.6" opacity="0.46"/>
<circle cx="169.1" cy="446.7" r="0.5" opacity="0.43"/>
<circle cx="148.5" cy="474.5" r="0.6" opacity="0.45"/>
<circle cx="164.6" cy="411.3" r="0.5" opacity="0.33"/>
<circle cx="63.3" cy="441.0" r="0.5" opacity="0.16"/>
<circle cx="184.3" cy="479.9" r="0.5" opacity="0.53"/>
<circle cx="142.1" cy="437.7" r="1.2" opacity="0.43"/>
<circle cx="179.7" cy="440.3" r="1.1" opacity="0.49"/>
<circle cx="80.5" cy="427.7" r="1.0" opacity="0.30"/>
<circle cx="180.7" cy="476.8" r="0.7" opacity="0.19"/>
<circle cx="178.0" cy="488.3" r="0.5" opacity="0.39"/>
<circle cx="176.7" cy="472.9" r="1.2" opacity="0.36"/>
<circle cx="157.0" cy="469.1" r="1.2" opacity="0.51"/>
<circle cx="131.6" cy="515.0" r="0.7" opacity="0.58"/>
<circle cx="134.2" cy="429.3" r="0.6" opacity="0.21"/>
<circle cx="142.2" cy="508.2" r="0.6" opacity="0.16"/>
<circle cx="131.7" cy="490.5" r="0.5" opacity="0.47"/>
<circle cx="125.1" cy="463.6" r="0.7" opacity="0.27"/>
<circle cx="191.8" cy="414.1" r="1.0" opacity="0.14"/>
<circle cx="105.0" cy="510.5" r="0.9" opacity="0.18"/>
<circle cx="55.5" cy="415.5" r="1.0" opacity="0.34"/>
<circle cx="161.3" cy="517.6" r="0.6" opacity="0.59"/>
<circle cx="158.3" cy="493.7" r="0.6" opacity="0.18"/>
<circle cx="128.4" cy="495.2" r="0.7" opacity="0.12"/>
<circle cx="154.9" cy="485.8" r="0.8" opacity="0.37"/>
<circle cx="184.3" cy="478.7" r="0.6" opacity="0.12"/>
<circle cx="136.1" cy="440.3" r="1.0" opacity="0.45"/>
<circle cx="187.3" cy="461.9" r="0.9" opacity="0.14"/>
<circle cx="133.7" cy="441.2" r="0.6" opacity="0.51"/>
<circle cx="146.4" cy="474.9" r="0.5" opacity="0.44"/>
<circle cx="107.2" cy="507.5" r="1.2" opacity="0.34"/>
<circle cx="131.6" cy="516.8" r="0.5" opacity="0.45"/>
<circle cx="132.6" cy="477.0" r="1.2" opacity="0.53"/>
<circle cx="174.6" cy="474.8" r="0.8" opacity="0.12"/>
<circle cx="189.2" cy="414.4" r="1.0" opacity="0.14"/>
<circle cx="162.9" cy="459.5" r="0.8" opacity="0.13"/>
<circle cx="148.1" cy="514.0" r="0.6" opacity="0.43"/>
<circle cx="158.5" cy="496.3" r="1.1" opacity="0.47"/>
<circle cx="174.0" cy="422.2" r="0.8" opacity="0.30"/>
<circle cx="56.0" cy="471.2" r="0.9" opacity="0.22"/>
<circle cx="189.4" cy="436.1" r="0.7" opacity="0.57"/>
<circle cx="123.0" cy="515.0" r="0.9" opacity="0.23"/>
<circle cx="107.5" cy="467.7" r="0.9" opacity="0.45"/>
<circle cx="74.7" cy="514.8" r="0.6" opacity="0.45"/>
<circle cx="116.6" cy="424.5" r="0.7" opacity="0.43"/>
<circle cx="166.3" cy="458.8" r="0.5" opacity="0.50"/>
<circle cx="187.7" cy="494.3" r="0.6" opacity="0.34"/>
<circle cx="141.7" cy="483.0" r="0.5" opacity="0.14"/>
<circle cx="79.4" cy="423.8" r="0.5" opacity="0.39"/>
<circle cx="88.7" cy="469.1" r="0.6" opacity="0.56"/>
<circle cx="94.0" cy="464.7" r="0.7" opacity="0.27"/>
<circle cx="177.1" cy="458.4" r="0.9" opacity="0.55"/>
<circle cx="100.7" cy="483.5" r="0.7" opacity="0.21"/>
<circle cx="177.3" cy="449.5" r="1.1" opacity="0.30"/>
<circle cx="188.8" cy="505.7" r="0.9" opacity="0.33"/>
<circle cx="191.3" cy="498.0" r="1.0" opacity="0.59"/>
<circle cx="97.1" cy="508.2" r="0.8" opacity="0.16"/>
<circle cx="152.1" cy="419.7" r="1.1" opacity="0.32"/>
<circle cx="165.1" cy="443.3" r="0.7" opacity="0.13"/>
<circle cx="165.1" cy="461.7" r="1.1" opacity="0.32"/>
<circle cx="108.4" cy="485.3" r="0.5" opacity="0.25"/>
<circle cx="191.6" cy="417.3" r="0.8" opacity="0.39"/>
<circle cx="170.7" cy="478.8" r="0.9" opacity="0.18"/>
<circle cx="172.4" cy="424.8" r="0.6" opacity="0.32"/>
<circle cx="178.0" cy="449.0" r="0.7" opacity="0.57"/>
<circle cx="112.0" cy="493.9" r="0.5" opacity="0.48"/>
<circle cx="163.3" cy="411.4" r="0.6" opacity="0.35"/>
<circle cx="83.3" cy="509.7" r="0.5" opacity="0.23"/>
<circle cx="164.6" cy="467.6" r="0.8" opacity="0.48"/>
<circle cx="45.9" cy="460.4" r="1.0" opacity="0.56"/>
<circle cx="162.2" cy="507.4" r="1.0" opacity="0.28"/>
<circle cx="63.8" cy="503.8" r="0.5" opacity="0.18"/>
<circle cx="152.3" cy="414.7" r="1.0" opacity="0.37"/>
<circle cx="36.8" cy="423.0" r="0.5" opacity="0.44"/>
<circle cx="61.0" cy="508.7" r="0.6" opacity="0.16"/>
<circle cx="147.6" cy="436.5" r="0.5" opacity="0.40"/>
<circle cx="29.3" cy="433.8" r="0.6" opacity="0.55"/>
<circle cx="115.9" cy="516.6" r="0.5" opacity="0.36"/>
<circle cx="99.8" cy="514.9" r="0.6" opacity="0.30"/>
<circle cx="62.5" cy="434.9" r="1.2" opacity="0.18"/>
<circle cx="143.6" cy="471.0" r="0.6" opacity="0.18"/>
<circle cx="188.6" cy="458.6" r="0.6" opacity="0.53"/>
<circle cx="105.7" cy="484.4" r="1.2" opacity="0.36"/>
<circle cx="154.1" cy="421.8" r="0.7" opacity="0.42"/>
<circle cx="49.3" cy="420.9" r="0.5" opacity="0.45"/>
<circle cx="187.9" cy="451.9" r="0.5" opacity="0.42"/>
<circle cx="154.0" cy="496.8" r="0.9" opacity="0.36"/>
<circle cx="117.5" cy="514.3" r="0.7" opacity="0.56"/>
<circle cx="169.4" cy="443.2" r="0.7" opacity="0.18"/>
<circle cx="145.5" cy="463.4" r="0.9" opacity="0.44"/>
<circle cx="140.4" cy="472.7" r="1.1" opacity="0.36"/>
<circle cx="80.0" cy="413.1" r="1.1" opacity="0.29"/>
<circle cx="177.7" cy="417.2" r="0.6" opacity="0.13"/>
<circle cx="121.0" cy="508.7" r="0.9" opacity="0.40"/>
<circle cx="190.1" cy="451.4" r="0.8" opacity="0.51"/>
<circle cx="166.1" cy="468.7" r="0.5" opacity="0.60"/>
<circle cx="42.2" cy="502.4" r="0.6" opacity="0.15"/>
<circle cx="159.6" cy="462.0" r="1.0" opacity="0.43"/>
<circle cx="169.8" cy="473.2" r="1.2" opacity="0.48"/>
<circle cx="128.7" cy="494.2" r="0.8" opacity="0.42"/>
<circle cx="113.4" cy="449.9" r="0.5" opacity="0.45"/>
<circle cx="164.4" cy="417.1" r="0.6" opacity="0.52"/>
<circle cx="94.2" cy="422.4" r="0.5" opacity="0.52"/>
<circle cx="134.1" cy="414.1" r="0.5" opacity="0.24"/>
<circle cx="160.0" cy="482.1" r="1.1" opacity="0.58"/>
<circle cx="176.0" cy="454.6" r="0.9" opacity="0.16"/>
<circle cx="183.1" cy="489.3" r="0.5" opacity="0.47"/>
<circle cx="184.2" cy="512.0" r="1.1" opacity="0.23"/>
<circle cx="66.0" cy="456.3" r="0.5" opacity="0.59"/>
<circle cx="141.3" cy="496.4" r="0.8" opacity="0.27"/>
<circle cx="188.9" cy="438.0" r="1.0" opacity="0.23"/>
<circle cx="163.2" cy="513.0" r="0.6" opacity="0.52"/>
<circle cx="163.4" cy="486.5" r="0.6" opacity="0.41"/>
<circle cx="161.6" cy="490.8" r="0.5" opacity="0.15"/>
<circle cx="78.9" cy="419.0" r="0.7" opacity="0.59"/>
<circle cx="140.5" cy="496.8" r="0.7" opacity="0.47"/>
<circle cx="159.3" cy="431.8" r="0.5" opacity="0.54"/>
<circle cx="183.4" cy="506.8" r="1.2" opacity="0.56"/>
<circle cx="188.2" cy="431.7" r="0.5" opacity="0.31"/>
<circle cx="98.0" cy="438.5" r="0.6" opacity="0.57"/>
<circle cx="179.3" cy="459.7" r="0.5" opacity="0.46"/>
<circle cx="74.7" cy="464.1" r="1.1" opacity="0.41"/>
<circle cx="191.7" cy="441.0" r="0.6" opacity="0.32"/>
<circle cx="129.2" cy="509.4" r="0.9" opacity="0.34"/>
<circle cx="144.2" cy="490.6" r="0.5" opacity="0.15"/>
<circle cx="126.0" cy="491.9" r="0.5" opacity="0.42"/>
<circle cx="187.2" cy="471.3" r="0.5" opacity="0.36"/>
<circle cx="181.0" cy="506.1" r="0.6" opacity="0.37"/>
<circle cx="50.5" cy="422.8" r="0.5" opacity="0.54"/>
<circle cx="153.0" cy="438.9" r="1.1" opacity="0.27"/>
<circle cx="191.6" cy="493.6" r="1.1" opacity="0.44"/>
<circle cx="159.1" cy="415.8" r="0.5" opacity="0.14"/>
<circle cx="191.7" cy="511.5" r="0.6" opacity="0.46"/>
<circle cx="170.5" cy="423.5" r="1.1" opacity="0.21"/>
<circle cx="174.4" cy="474.1" r="1.2" opacity="0.37"/>
<circle cx="121.5" cy="455.6" r="1.0" opacity="0.44"/>
<circle cx="173.9" cy="412.8" r="0.9" opacity="0.31"/>
<circle cx="135.6" cy="514.1" r="0.9" opacity="0.47"/>
<circle cx="185.5" cy="472.3" r="0.5" opacity="0.43"/>
<circle cx="80.5" cy="416.1" r="1.2" opacity="0.30"/>
<circle cx="151.5" cy="481.6" r="0.7" opacity="0.33"/>
<circle cx="160.5" cy="444.0" r="0.5" opacity="0.44"/>
<circle cx="164.7" cy="466.1" r="1.1" opacity="0.35"/>
<circle cx="161.2" cy="477.2" r="0.7" opacity="0.14"/>
<circle cx="140.6" cy="427.0" r="0.8" opacity="0.37"/>
<circle cx="106.0" cy="426.3" r="1.1" opacity="0.52"/>
<circle cx="113.6" cy="442.4" r="0.5" opacity="0.14"/>
<circle cx="44.8" cy="456.5" r="0.9" opacity="0.39"/>
<circle cx="68.9" cy="437.9" r="0.7" opacity="0.17"/>
<circle cx="136.5" cy="429.7" r="0.6" opacity="0.16"/>
<circle cx="172.1" cy="442.6" r="0.7" opacity="0.44"/>
<circle cx="171.2" cy="430.5" r="1.0" opacity="0.41"/>
<circle cx="171.3" cy="421.6" r="0.5" opacity="0.18"/>
<circle cx="170.8" cy="515.8" r="0.7" opacity="0.42"/>
<circle cx="188.2" cy="449.5" r="0.9" opacity="0.31"/>
<circle cx="77.1" cy="423.7" r="0.5" opacity="0.13"/>
<circle cx="187.6" cy="504.1" r="0.9" opacity="0.43"/>
<circle cx="105.4" cy="412.4" r="0.5" opacity="0.46"/>
<circle cx="165.0" cy="415.6" r="0.8" opacity="0.46"/>
<circle cx="189.1" cy="502.9" r="0.8" opacity="0.39"/>
<circle cx="162.2" cy="463.4" r="0.7" opacity="0.32"/>
<circle cx="182.4" cy="448.0" r="0.5" opacity="0.26"/>
<circle cx="58.8" cy="447.7" r="0.5" opacity="0.56"/>
<circle cx="135.7" cy="424.4" r="0.9" opacity="0.58"/>
<circle cx="164.9" cy="483.7" r="1.0" opacity="0.50"/>
<circle cx="166.8" cy="478.1" r="1.0" opacity="0.44"/>
<circle cx="77.3" cy="432.9" r="0.5" opacity="0.54"/>
<circle cx="175.0" cy="413.5" r="0.7" opacity="0.42"/>
<circle cx="47.0" cy="434.5" r="0.6" opacity="0.29"/>
<circle cx="171.1" cy="509.8" r="0.6" opacity="0.33"/>
<circle cx="110.7" cy="490.2" r="0.8" opacity="0.28"/>
<circle cx="160.9" cy="447.4" r="0.5" opacity="0.30"/>
<circle cx="158.5" cy="449.6" r="0.5" opacity="0.12"/>
<circle cx="160.4" cy="513.3" r="0.6" opacity="0.59"/>
<circle cx="136.3" cy="466.9" r="0.6" opacity="0.45"/>
<circle cx="177.5" cy="410.9" r="0.7" opacity="0.56"/>
<circle cx="142.9" cy="458.9" r="0.8" opacity="0.50"/>
<circle cx="156.3" cy="454.3" r="0.6" opacity="0.14"/>
<circle cx="152.3" cy="427.5" r="1.0" opacity="0.40"/>
<circle cx="190.3" cy="422.1" r="0.6" opacity="0.42"/>
<circle cx="113.0" cy="437.1" r="0.8" opacity="0.51"/>
<circle cx="164.1" cy="419.0" r="1.1" opacity="0.35"/>
<circle cx="188.1" cy="500.2" r="0.5" opacity="0.46"/>
<circle cx="150.5" cy="513.4" r="1.2" opacity="0.41"/>
<circle cx="191.0" cy="443.2" r="1.0" opacity="0.19"/>
<circle cx="107.9" cy="423.4" r="1.1" opacity="0.32"/>
<circle cx="137.0" cy="454.9" r="0.6" opacity="0.38"/>
<circle cx="185.6" cy="507.5" r="0.8" opacity="0.54"/>
<circle cx="144.1" cy="471.4" r="0.8" opacity="0.21"/>
<circle cx="129.4" cy="473.2" r="0.8" opacity="0.21"/>
<circle cx="105.8" cy="508.2" r="1.2" opacity="0.21"/>
<circle cx="143.8" cy="507.2" r="1.0" opacity="0.41"/>
<circle cx="169.3" cy="444.8" r="0.5" opacity="0.17"/>
<circle cx="54.8" cy="425.8" r="0.5" opacity="0.27"/>
<circle cx="80.8" cy="413.0" r="0.6" opacity="0.27"/>
<circle cx="164.0" cy="423.2" r="1.0" opacity="0.40"/>
<circle cx="186.5" cy="483.9" r="0.8" opacity="0.50"/>
<circle cx="77.4" cy="454.5" r="0.8" opacity="0.22"/>
<circle cx="156.4" cy="468.9" r="1.1" opacity="0.34"/>
<circle cx="74.9" cy="516.4" r="1.2" opacity="0.35"/>
<circle cx="125.9" cy="501.9" r="0.6" opacity="0.42"/>
<circle cx="123.8" cy="465.9" r="0.9" opacity="0.39"/>
<circle cx="76.8" cy="453.3" r="0.5" opacity="0.39"/>
<circle cx="185.5" cy="444.9" r="0.6" opacity="0.25"/>
<circle cx="151.6" cy="459.6" r="1.2" opacity="0.28"/>
<circle cx="103.1" cy="475.6" r="0.9" opacity="0.43"/>
<circle cx="143.4" cy="493.5" r="1.0" opacity="0.43"/>
<circle cx="138.2" cy="483.6" r="1.0" opacity="0.52"/>
<circle cx="142.4" cy="410.9" r="1.2" opacity="0.33"/>
<circle cx="63.7" cy="412.2" r="1.2" opacity="0.29"/>
<circle cx="145.8" cy="435.7" r="0.6" opacity="0.25"/>
<circle cx="176.7" cy="487.4" r="0.5" opacity="0.51"/>
<circle cx="37.8" cy="424.0" r="0.5" opacity="0.39"/>
<circle cx="141.7" cy="468.4" r="0.8" opacity="0.34"/>
<circle cx="191.7" cy="440.0" r="0.7" opacity="0.29"/>
<circle cx="152.6" cy="506.8" r="0.6" opacity="0.32"/>
<circle cx="101.3" cy="410.6" r="0.5" opacity="0.39"/>
<circle cx="97.1" cy="418.2" r="0.5" opacity="0.27"/>
<circle cx="160.7" cy="474.9" r="0.6" opacity="0.24"/>
<circle cx="183.2" cy="494.9" r="1.0" opacity="0.42"/>
<circle cx="122.8" cy="419.4" r="0.5" opacity="0.27"/>
<circle cx="167.3" cy="417.1" r="1.1" opacity="0.33"/>
<circle cx="76.9" cy="478.6" r="0.9" opacity="0.39"/>
<circle cx="75.8" cy="451.8" r="1.0" opacity="0.23"/>
<circle cx="126.2" cy="482.2" r="0.6" opacity="0.50"/>
<circle cx="172.6" cy="477.8" r="1.2" opacity="0.50"/>
<circle cx="102.1" cy="445.9" r="0.5" opacity="0.41"/>
<circle cx="38.2" cy="496.4" r="0.8" opacity="0.43"/>
<circle cx="185.8" cy="492.6" r="1.1" opacity="0.49"/>
<circle cx="139.3" cy="416.3" r="1.0" opacity="0.53"/>
<circle cx="96.9" cy="431.4" r="1.1" opacity="0.50"/>
<circle cx="189.5" cy="475.7" r="0.8" opacity="0.58"/>
<circle cx="129.0" cy="455.8" r="0.7" opacity="0.50"/>
<circle cx="34.0" cy="434.0" r="0.5" opacity="0.23"/>
<circle cx="184.7" cy="446.3" r="0.5" opacity="0.21"/>
<circle cx="190.8" cy="449.7" r="0.5" opacity="0.18"/>
<circle cx="153.7" cy="414.8" r="0.5" opacity="0.20"/>
<circle cx="173.5" cy="488.7" r="0.8" opacity="0.21"/>
<circle cx="158.6" cy="431.0" r="0.6" opacity="0.41"/>
<circle cx="188.7" cy="436.8" r="0.8" opacity="0.21"/>
<circle cx="115.6" cy="496.5" r="0.5" opacity="0.50"/>
<circle cx="173.6" cy="432.9" r="0.7" opacity="0.44"/>
<circle cx="141.9" cy="488.4" r="0.5" opacity="0.31"/>
<circle cx="179.5" cy="473.9" r="0.5" opacity="0.22"/>
<circle cx="169.9" cy="453.4" r="1.1" opacity="0.39"/>
<circle cx="181.8" cy="451.0" r="0.5" opacity="0.16"/>
<circle cx="79.5" cy="451.9" r="0.5" opacity="0.43"/>
<circle cx="180.4" cy="420.8" r="0.5" opacity="0.22"/>
<circle cx="162.0" cy="484.8" r="0.9" opacity="0.60"/>
<circle cx="192.2" cy="492.4" r="1.1" opacity="0.12"/>
<circle cx="153.0" cy="426.3" r="0.5" opacity="0.48"/>
<circle cx="152.4" cy="489.1" r="1.0" opacity="0.27"/>
<circle cx="89.0" cy="473.2" r="1.2" opacity="0.12"/>
<circle cx="161.1" cy="501.4" r="0.6" opacity="0.45"/>
<circle cx="101.7" cy="508.0" r="0.5" opacity="0.39"/>
<circle cx="170.3" cy="424.2" r="0.7" opacity="0.46"/>
<circle cx="72.6" cy="410.8" r="0.5" opacity="0.31"/>
<circle cx="172.5" cy="460.4" r="0.9" opacity="0.26"/>
<circle cx="172.8" cy="460.0" r="0.9" opacity="0.26"/>
<circle cx="128.5" cy="498.7" r="0.5" opacity="0.55"/>
<circle cx="178.6" cy="486.4" r="0.5" opacity="0.36"/>
<circle cx="110.8" cy="460.6" r="0.9" opacity="0.48"/>
<circle cx="92.6" cy="411.2" r="1.1" opacity="0.28"/>
<circle cx="150.9" cy="463.1" r="0.8" opacity="0.24"/>
<circle cx="166.3" cy="428.7" r="0.5" opacity="0.26"/>
<circle cx="115.5" cy="452.8" r="1.0" opacity="0.45"/>
<circle cx="52.4" cy="449.2" r="0.5" opacity="0.44"/>
<circle cx="161.3" cy="480.2" r="1.1" opacity="0.31"/>
<circle cx="78.0" cy="415.7" r="1.0" opacity="0.49"/>
<circle cx="180.7" cy="451.0" r="0.5" opacity="0.32"/>
<circle cx="190.7" cy="446.9" r="0.9" opacity="0.23"/>
<circle cx="182.4" cy="423.2" r="0.6" opacity="0.20"/>
<circle cx="134.6" cy="450.4" r="0.5" opacity="0.26"/>
<circle cx="126.1" cy="517.6" r="0.7" opacity="0.60"/>
<circle cx="124.2" cy="518.2" r="0.8" opacity="0.55"/>
<circle cx="129.6" cy="416.6" r="0.6" opacity="0.19"/>
<circle cx="134.3" cy="441.6" r="1.1" opacity="0.28"/>
<circle cx="146.1" cy="476.6" r="0.6" opacity="0.33"/>
<circle cx="28.0" cy="505.3" r="0.5" opacity="0.42"/>
<circle cx="50.4" cy="432.4" r="0.8" opacity="0.52"/>
<circle cx="181.2" cy="435.9" r="0.9" opacity="0.27"/>
<circle cx="146.4" cy="436.8" r="0.5" opacity="0.26"/>
<circle cx="162.6" cy="496.9" r="0.6" opacity="0.53"/>
<circle cx="152.6" cy="510.9" r="0.5" opacity="0.47"/>
<circle cx="89.1" cy="476.4" r="0.5" opacity="0.35"/>
<circle cx="52.6" cy="430.8" r="0.7" opacity="0.47"/>
<circle cx="187.6" cy="450.9" r="0.8" opacity="0.40"/>
<circle cx="146.5" cy="465.8" r="0.9" opacity="0.45"/>
<circle cx="133.8" cy="438.6" r="0.9" opacity="0.24"/>
<circle cx="178.7" cy="453.5" r="1.1" opacity="0.37"/>
<circle cx="136.0" cy="451.9" r="0.6" opacity="0.54"/>
<circle cx="155.5" cy="447.7" r="1.0" opacity="0.57"/>
<circle cx="162.1" cy="410.2" r="0.9" opacity="0.37"/>
<circle cx="135.3" cy="490.3" r="0.6" opacity="0.46"/>
<circle cx="101.6" cy="499.2" r="0.5" opacity="0.21"/>
<circle cx="170.7" cy="428.2" r="0.6" opacity="0.25"/>
<circle cx="138.3" cy="421.0" r="1.0" opacity="0.12"/>
<circle cx="123.4" cy="518.1" r="0.7" opacity="0.12"/>
<circle cx="181.3" cy="461.8" r="0.7" opacity="0.30"/>
<circle cx="182.7" cy="482.8" r="0.5" opacity="0.29"/>
<circle cx="105.6" cy="455.2" r="1.2" opacity="0.58"/>
<circle cx="161.5" cy="411.8" r="0.5" opacity="0.51"/>
<circle cx="93.2" cy="477.1" r="0.7" opacity="0.57"/>
<circle cx="176.8" cy="490.4" r="0.5" opacity="0.19"/>
<circle cx="171.8" cy="428.4" r="0.5" opacity="0.44"/>
<circle cx="136.2" cy="419.8" r="0.9" opacity="0.20"/>
<circle cx="180.7" cy="508.8" r="0.5" opacity="0.24"/>
<circle cx="105.8" cy="508.3" r="0.5" opacity="0.38"/>
<circle cx="171.3" cy="512.0" r="0.8" opacity="0.43"/>
<circle cx="168.7" cy="498.5" r="0.5" opacity="0.16"/>
<circle cx="150.2" cy="422.7" r="1.1" opacity="0.58"/>
<circle cx="122.5" cy="410.2" r="0.7" opacity="0.53"/>
<circle cx="189.2" cy="445.0" r="0.9" opacity="0.50"/>
<circle cx="113.0" cy="475.9" r="0.6" opacity="0.38"/>
<circle cx="165.6" cy="464.7" r="0.8" opacity="0.19"/>
<circle cx="35.7" cy="504.8" r="0.7" opacity="0.31"/>
<circle cx="191.0" cy="470.0" r="0.9" opacity="0.60"/>
<circle cx="152.4" cy="452.8" r="0.6" opacity="0.45"/>
<circle cx="160.2" cy="503.1" r="0.7" opacity="0.20"/>
<circle cx="166.3" cy="511.4" r="1.2" opacity="0.21"/>
<circle cx="93.9" cy="413.7" r="0.7" opacity="0.45"/>
<circle cx="185.0" cy="481.5" r="0.9" opacity="0.50"/>
<circle cx="87.8" cy="423.1" r="0.7" opacity="0.44"/>
<circle cx="158.5" cy="429.8" r="0.8" opacity="0.33"/>
<circle cx="121.6" cy="420.9" r="1.1" opacity="0.50"/>
<circle cx="57.6" cy="499.0" r="0.8" opacity="0.38"/>
<circle cx="161.4" cy="463.5" r="0.8" opacity="0.46"/>
<circle cx="186.8" cy="508.3" r="0.8" opacity="0.21"/>
<circle cx="118.8" cy="497.7" r="0.5" opacity="0.22"/>
<circle cx="183.4" cy="410.0" r="1.2" opacity="0.37"/>
<circle cx="156.6" cy="482.2" r="0.8" opacity="0.45"/>
<circle cx="113.5" cy="518.0" r="0.7" opacity="0.22"/>
<circle cx="185.5" cy="475.9" r="0.6" opacity="0.18"/>
<circle cx="130.0" cy="418.1" r="0.6" opacity="0.55"/>
<circle cx="93.2" cy="419.1" r="0.7" opacity="0.45"/>
<circle cx="191.7" cy="486.3" r="0.6" opacity="0.44"/>
<circle cx="162.8" cy="476.2" r="0.5" opacity="0.60"/>
<circle cx="39.8" cy="423.6" r="0.8" opacity="0.15"/>
<circle cx="132.9" cy="449.7" r="0.6" opacity="0.54"/>
<circle cx="187.3" cy="451.5" r="1.2" opacity="0.20"/>
<circle cx="170.2" cy="470.4" r="1.1" opacity="0.20"/>
<circle cx="183.6" cy="452.7" r="0.9" opacity="0.58"/>
<circle cx="105.9" cy="424.0" r="0.7" opacity="0.19"/>
<circle cx="159.1" cy="465.0" r="0.7" opacity="0.57"/>
<circle cx="172.9" cy="499.1" r="1.1" opacity="0.57"/>
<circle cx="94.3" cy="444.2" r="0.5" opacity="0.47"/>
<circle cx="183.4" cy="428.1" r="0.9" opacity="0.39"/>
<circle cx="174.0" cy="486.4" r="0.8" opacity="0.56"/>
<circle cx="113.6" cy="434.6" r="1.1" opacity="0.37"/>
<circle cx="184.6" cy="456.3" r="0.6" opacity="0.17"/>
<circle cx="178.3" cy="437.3" r="1.0" opacity="0.18"/>
<circle cx="76.5" cy="442.1" r="0.9" opacity="0.39"/>
<circle cx="133.4" cy="500.4" r="0.7" opacity="0.42"/>
<circle cx="81.4" cy="448.8" r="1.1" opacity="0.21"/>
<circle cx="41.0" cy="466.3" r="0.5" opacity="0.35"/>
<circle cx="57.2" cy="498.9" r="0.7" opacity="0.52"/>
<circle cx="86.5" cy="505.3" r="0.5" opacity="0.14"/>
<circle cx="137.1" cy="439.1" r="0.8" opacity="0.50"/>
<circle cx="166.5" cy="452.6" r="0.5" opacity="0.13"/>
<circle cx="188.6" cy="490.7" r="0.6" opacity="0.35"/>
<circle cx="152.9" cy="437.1" r="0.7" opacity="0.24"/>
<circle cx="124.8" cy="479.5" r="0.5" opacity="0.14"/>
<circle cx="190.9" cy="511.7" r="0.8" opacity="0.16"/>
<circle cx="131.8" cy="435.3" r="0.7" opacity="0.36"/>
<circle cx="133.6" cy="443.3" r="0.6" opacity="0.29"/>
<circle cx="96.2" cy="445.0" r="0.5" opacity="0.15"/>
<circle cx="150.3" cy="433.2" r="1.1" opacity="0.17"/>
<circle cx="77.4" cy="420.6" r="0.8" opacity="0.53"/>
<circle cx="155.9" cy="467.9" r="0.9" opacity="0.22"/>
<circle cx="90.6" cy="507.1" r="0.9" opacity="0.18"/>
<circle cx="147.0" cy="518.4" r="0.9" opacity="0.14"/>
<circle cx="188.4" cy="508.0" r="0.9" opacity="0.56"/>
<circle cx="142.3" cy="424.1" r="0.8" opacity="0.50"/>
<circle cx="141.8" cy="491.1" r="0.9" opacity="0.54"/>
<circle cx="187.8" cy="428.1" r="0.6" opacity="0.49"/>
<circle cx="93.3" cy="439.7" r="0.5" opacity="0.22"/>
<circle cx="118.4" cy="428.7" r="0.5" opacity="0.14"/>
<circle cx="128.2" cy="445.5" r="1.0" opacity="0.52"/>
<circle cx="63.3" cy="515.7" r="1.2" opacity="0.38"/>
<circle cx="189.0" cy="495.2" r="0.5" opacity="0.48"/>
<circle cx="160.7" cy="492.4" r="0.5" opacity="0.47"/>
<circle cx="88.0" cy="508.8" r="0.5" opacity="0.21"/>
<circle cx="169.7" cy="430.7" r="0.9" opacity="0.43"/>
<circle cx="30.5" cy="427.8" r="0.6" opacity="0.41"/>
<circle cx="38.5" cy="417.9" r="1.1" opacity="0.59"/>
<circle cx="160.7" cy="476.1" r="0.5" opacity="0.52"/>
<circle cx="153.4" cy="480.6" r="0.5" opacity="0.16"/>
<circle cx="50.6" cy="478.7" r="1.2" opacity="0.58"/>
<circle cx="144.1" cy="432.2" r="0.8" opacity="0.33"/>
<circle cx="54.0" cy="446.3" r="0.5" opacity="0.45"/>
<circle cx="31.0" cy="456.8" r="0.9" opacity="0.23"/>
<circle cx="163.2" cy="422.3" r="0.5" opacity="0.17"/>
<circle cx="185.2" cy="449.1" r="0.5" opacity="0.56"/>
<circle cx="179.2" cy="508.1" r="0.5" opacity="0.37"/>
<circle cx="126.2" cy="484.4" r="0.9" opacity="0.26"/>
<circle cx="162.3" cy="448.1" r="1.1" opacity="0.44"/>
<circle cx="181.4" cy="498.8" r="0.5" opacity="0.12"/>
<circle cx="181.4" cy="426.3" r="0.6" opacity="0.31"/>
<circle cx="146.4" cy="496.0" r="0.5" opacity="0.40"/>
<circle cx="185.8" cy="440.5" r="1.2" opacity="0.21"/>
<circle cx="143.4" cy="435.8" r="1.2" opacity="0.13"/>
<circle cx="170.5" cy="499.7" r="0.5" opacity="0.53"/>
<circle cx="187.8" cy="510.0" r="1.0" opacity="0.15"/>
<circle cx="32.0" cy="450.0" r="0.5" opacity="0.39"/>
<circle cx="161.7" cy="426.4" r="0.9" opacity="0.48"/>
<circle cx="142.6" cy="442.8" r="0.6" opacity="0.50"/>
<circle cx="142.1" cy="441.4" r="1.1" opacity="0.14"/>
<circle cx="151.3" cy="465.1" r="1.0" opacity="0.45"/>
<circle cx="179.1" cy="465.0" r="0.7" opacity="0.20"/>
<circle cx="134.0" cy="431.3" r="0.5" opacity="0.41"/>
<circle cx="167.1" cy="413.1" r="0.7" opacity="0.15"/>
<circle cx="125.8" cy="492.8" r="0.8" opacity="0.43"/>
<circle cx="43.7" cy="498.4" r="0.8" opacity="0.30"/>
<circle cx="124.0" cy="503.3" r="0.5" opacity="0.34"/>
<circle cx="173.5" cy="420.2" r="1.1" opacity="0.51"/>
<circle cx="135.3" cy="494.2" r="1.2" opacity="0.37"/>
<circle cx="174.4" cy="494.8" r="0.5" opacity="0.41"/>
<circle cx="109.3" cy="498.1" r="1.1" opacity="0.38"/>
<circle cx="187.4" cy="495.6" r="0.5" opacity="0.27"/>
<circle cx="181.6" cy="427.7" r="0.6" opacity="0.16"/>
<circle cx="134.6" cy="425.4" r="0.8" opacity="0.14"/>
<circle cx="178.8" cy="424.1" r="1.1" opacity="0.58"/>
<circle cx="67.5" cy="499.9" r="1.1" opacity="0.26"/>
<circle cx="53.2" cy="453.7" r="0.6" opacity="0.34"/>
<circle cx="176.0" cy="460.9" r="0.9" opacity="0.56"/>
<circle cx="179.7" cy="494.1" r="0.6" opacity="0.27"/>
<circle cx="191.9" cy="463.2" r="0.7" opacity="0.25"/>
<circle cx="133.0" cy="445.1" r="0.8" opacity="0.30"/>
<circle cx="182.0" cy="449.6" r="0.7" opacity="0.15"/>
<circle cx="170.7" cy="514.3" r="0.5" opacity="0.43"/>
<circle cx="113.9" cy="483.3" r="1.0" opacity="0.16"/>
<circle cx="176.2" cy="447.5" r="0.5" opacity="0.29"/>
<circle cx="141.7" cy="452.6" r="1.0" opacity="0.41"/>
<circle cx="149.9" cy="490.7" r="0.5" opacity="0.34"/>
<circle cx="51.4" cy="504.6" r="1.2" opacity="0.32"/>
<circle cx="164.8" cy="423.8" r="1.2" opacity="0.17"/>
<circle cx="170.6" cy="486.6" r="0.7" opacity="0.32"/>
<circle cx="153.6" cy="422.4" r="0.7" opacity="0.20"/>
<circle cx="125.5" cy="469.4" r="1.1" opacity="0.45"/>
<circle cx="160.4" cy="421.4" r="0.8" opacity="0.32"/>
<circle cx="59.4" cy="461.4" r="1.2" opacity="0.56"/>
<circle cx="149.7" cy="410.8" r="0.5" opacity="0.26"/>
<circle cx="158.6" cy="455.4" r="1.1" opacity="0.32"/>
<circle cx="162.2" cy="499.8" r="0.6" opacity="0.58"/>
<circle cx="159.6" cy="473.3" r="0.8" opacity="0.59"/>
<circle cx="166.5" cy="478.7" r="0.8" opacity="0.58"/>
<circle cx="131.1" cy="475.0" r="0.9" opacity="0.56"/>
<circle cx="165.7" cy="452.8" r="0.5" opacity="0.16"/>
<circle cx="185.8" cy="418.4" r="0.6" opacity="0.27"/>
<circle cx="177.3" cy="498.5" r="0.5" opacity="0.21"/>
<circle cx="120.9" cy="476.4" r="1.2" opacity="0.60"/>
<circle cx="58.9" cy="413.2" r="0.7" opacity="0.19"/>
<circle cx="170.5" cy="422.6" r="0.6" opacity="0.23"/>
<circle cx="147.4" cy="512.9" r="0.7" opacity="0.58"/>
<circle cx="150.3" cy="464.3" r="0.6" opacity="0.21"/>
<circle cx="130.1" cy="476.5" r="0.8" opacity="0.30"/>
<circle cx="131.7" cy="417.0" r="0.5" opacity="0.37"/>
<circle cx="133.8" cy="515.7" r="0.5" opacity="0.21"/>
<circle cx="156.0" cy="423.4" r="0.5" opacity="0.28"/>
<circle cx="114.3" cy="421.3" r="0.8" opacity="0.54"/>
<circle cx="33.5" cy="480.6" r="0.5" opacity="0.51"/>
<circle cx="31.8" cy="415.2" r="0.5" opacity="0.27"/>
<circle cx="140.8" cy="457.7" r="0.5" opacity="0.55"/>
<circle cx="181.6" cy="505.0" r="1.0" opacity="0.17"/>
<circle cx="183.8" cy="418.2" r="0.8" opacity="0.51"/>
<circle cx="71.7" cy="428.7" r="0.7" opacity="0.18"/>
<circle cx="186.8" cy="455.3" r="0.5" opacity="0.37"/>
<circle cx="70.7" cy="442.4" r="0.8" opacity="0.54"/>
<circle cx="136.1" cy="490.5" r="0.5" opacity="0.59"/>
<circle cx="37.0" cy="411.4" r="1.0" opacity="0.21"/>
<circle cx="78.6" cy="459.7" r="0.7" opacity="0.56"/>
<circle cx="58.1" cy="440.4" r="0.6" opacity="0.54"/>
<circle cx="40.9" cy="457.2" r="0.7" opacity="0.36"/>
<circle cx="35.8" cy="439.8" r="0.9" opacity="0.47"/>
<circle cx="185.7" cy="434.0" r="0.5" opacity="0.25"/>
<circle cx="37.9" cy="421.1" r="0.8" opacity="0.46"/>
<circle cx="172.6" cy="439.4" r="1.0" opacity="0.29"/>
<circle cx="66.5" cy="444.5" r="0.5" opacity="0.55"/>
<circle cx="82.3" cy="429.4" r="0.5" opacity="0.45"/>
<circle cx="123.5" cy="463.5" r="0.5" opacity="0.51"/>
<circle cx="113.9" cy="428.3" r="0.5" opacity="0.27"/>
<circle cx="190.8" cy="438.2" r="0.6" opacity="0.13"/>
<circle cx="168.7" cy="482.2" r="0.7" opacity="0.24"/>
<circle cx="149.6" cy="516.6" r="0.9" opacity="0.21"/>
<circle cx="140.5" cy="461.1" r="1.2" opacity="0.42"/>
<circle cx="136.9" cy="443.2" r="1.0" opacity="0.13"/>
<circle cx="136.3" cy="410.1" r="0.6" opacity="0.26"/>
<circle cx="169.2" cy="482.9" r="0.5" opacity="0.16"/>
<circle cx="123.9" cy="418.8" r="0.7" opacity="0.29"/>
<circle cx="161.3" cy="479.8" r="1.2" opacity="0.17"/>
<circle cx="120.3" cy="484.3" r="0.8" opacity="0.45"/>
<circle cx="131.0" cy="469.8" r="1.1" opacity="0.33"/>
<circle cx="181.7" cy="488.0" r="0.7" opacity="0.32"/>
<circle cx="185.5" cy="456.1" r="0.8" opacity="0.27"/>
<circle cx="67.2" cy="466.1" r="0.8" opacity="0.39"/>
<circle cx="171.8" cy="460.4" r="0.5" opacity="0.52"/>
<circle cx="134.6" cy="446.5" r="0.6" opacity="0.35"/>
<circle cx="138.6" cy="491.0" r="0.5" opacity="0.19"/>
<circle cx="149.5" cy="464.2" r="0.9" opacity="0.53"/>
<circle cx="47.0" cy="420.6" r="0.7" opacity="0.52"/>
<circle cx="100.5" cy="416.1" r="0.6" opacity="0.59"/>
<circle cx="162.8" cy="502.2" r="1.0" opacity="0.45"/>
<circle cx="169.2" cy="477.6" r="0.8" opacity="0.21"/>
<circle cx="162.5" cy="482.0" r="0.9" opacity="0.38"/>
<circle cx="185.7" cy="464.0" r="0.6" opacity="0.45"/>
<circle cx="174.8" cy="477.9" r="1.1" opacity="0.58"/>
<circle cx="145.4" cy="496.1" r="1.0" opacity="0.27"/>
<circle cx="114.0" cy="424.2" r="1.2" opacity="0.29"/>
<circle cx="129.2" cy="454.2" r="1.1" opacity="0.20"/>
<circle cx="160.8" cy="490.2" r="1.1" opacity="0.20"/>
<circle cx="174.7" cy="492.8" r="0.5" opacity="0.41"/>
<circle cx="45.9" cy="502.7" r="1.0" opacity="0.41"/>
<circle cx="166.1" cy="511.1" r="0.9" opacity="0.30"/>
<circle cx="190.7" cy="472.8" r="0.5" opacity="0.33"/>
<circle cx="74.3" cy="432.0" r="1.0" opacity="0.51"/>
<circle cx="174.8" cy="449.4" r="0.8" opacity="0.15"/>
<circle cx="129.4" cy="471.2" r="0.5" opacity="0.33"/>
<circle cx="89.2" cy="417.8" r="1.0" opacity="0.26"/>
<circle cx="179.6" cy="437.5" r="0.5" opacity="0.54"/>
<circle cx="187.2" cy="418.2" r="1.1" opacity="0.57"/>
<circle cx="109.8" cy="453.7" r="0.9" opacity="0.17"/>
<circle cx="104.9" cy="510.5" r="0.5" opacity="0.28"/>
<circle cx="176.7" cy="487.0" r="0.5" opacity="0.59"/>
<circle cx="184.2" cy="475.5" r="0.5" opacity="0.38"/>
<circle cx="183.7" cy="439.6" r="0.5" opacity="0.36"/>
<circle cx="134.6" cy="457.3" r="1.1" opacity="0.59"/>
<circle cx="139.9" cy="490.8" r="0.5" opacity="0.49"/>
<circle cx="142.1" cy="457.1" r="0.5" opacity="0.33"/>
<circle cx="175.5" cy="517.6" r="0.5" opacity="0.33"/>
<circle cx="39.7" cy="423.9" r="0.5" opacity="0.29"/>
<circle cx="135.4" cy="436.7" r="0.8" opacity="0.35"/>
<circle cx="47.3" cy="418.4" r="0.8" opacity="0.36"/>
<circle cx="156.1" cy="442.0" r="0.7" opacity="0.25"/>
<circle cx="142.5" cy="465.1" r="1.1" opacity="0.46"/>
<circle cx="129.9" cy="440.6" r="0.5" opacity="0.59"/>
<circle cx="88.6" cy="499.4" r="1.2" opacity="0.46"/>
<circle cx="134.6" cy="459.7" r="0.7" opacity="0.14"/>
<circle cx="34.4" cy="432.5" r="0.7" opacity="0.15"/>
<circle cx="124.8" cy="492.9" r="1.0" opacity="0.33"/>
<circle cx="182.2" cy="460.8" r="0.8" opacity="0.37"/>
<circle cx="180.0" cy="424.4" r="1.0" opacity="0.58"/>
<circle cx="161.1" cy="476.6" r="0.8" opacity="0.27"/>
<circle cx="106.5" cy="502.5" r="0.5" opacity="0.57"/>
<circle cx="72.7" cy="505.2" r="0.8" opacity="0.19"/>
<circle cx="129.3" cy="415.4" r="0.5" opacity="0.45"/>
<circle cx="169.4" cy="473.5" r="0.9" opacity="0.15"/>
<circle cx="145.3" cy="438.4" r="0.9" opacity="0.53"/>
<circle cx="111.6" cy="435.9" r="0.6" opacity="0.51"/>
<circle cx="177.9" cy="412.8" r="1.0" opacity="0.37"/>
<circle cx="156.2" cy="465.6" r="0.6" opacity="0.22"/>
<circle cx="90.1" cy="519.3" r="0.5" opacity="0.57"/>
<circle cx="167.3" cy="467.8" r="0.7" opacity="0.37"/>
<circle cx="75.5" cy="436.7" r="1.0" opacity="0.29"/>
<circle cx="102.4" cy="491.9" r="0.5" opacity="0.47"/>
<circle cx="172.7" cy="449.6" r="0.7" opacity="0.56"/>
<circle cx="135.1" cy="476.3" r="0.6" opacity="0.39"/>
<circle cx="163.8" cy="423.7" r="1.0" opacity="0.32"/>
<circle cx="123.8" cy="425.1" r="0.6" opacity="0.27"/>
<circle cx="175.9" cy="506.0" r="0.5" opacity="0.25"/>
<circle cx="141.2" cy="518.4" r="1.1" opacity="0.56"/>
<circle cx="176.7" cy="448.8" r="0.8" opacity="0.46"/>
<circle cx="165.2" cy="441.7" r="0.5" opacity="0.21"/>
<circle cx="183.4" cy="420.6" r="0.6" opacity="0.39"/>
<circle cx="148.6" cy="518.3" r="0.7" opacity="0.40"/>
<circle cx="128.9" cy="420.9" r="0.5" opacity="0.25"/>
<circle cx="178.9" cy="518.3" r="1.2" opacity="0.44"/>
<circle cx="185.9" cy="469.1" r="0.5" opacity="0.52"/>
<circle cx="164.5" cy="442.3" r="0.9" opacity="0.53"/>
<circle cx="170.1" cy="518.7" r="0.5" opacity="0.29"/>
<circle cx="172.2" cy="413.9" r="0.5" opacity="0.19"/>
<circle cx="148.4" cy="440.9" r="1.1" opacity="0.58"/>
<circle cx="168.9" cy="492.1" r="0.5" opacity="0.39"/>
<circle cx="56.8" cy="442.9" r="0.6" opacity="0.35"/>
<circle cx="158.9" cy="452.9" r="0.7" opacity="0.17"/>
<circle cx="136.6" cy="422.7" r="0.6" opacity="0.17"/>
<circle cx="95.2" cy="435.7" r="0.7" opacity="0.55"/>
<circle cx="162.5" cy="443.8" r="0.8" opacity="0.20"/>
<circle cx="153.9" cy="470.5" r="0.7" opacity="0.29"/>
<circle cx="177.7" cy="446.3" r="0.9" opacity="0.57"/>
<circle cx="53.0" cy="443.0" r="1.0" opacity="0.24"/>
<circle cx="71.7" cy="419.3" r="0.9" opacity="0.49"/>
<circle cx="158.2" cy="431.3" r="0.6" opacity="0.28"/>
<circle cx="111.8" cy="412.6" r="0.5" opacity="0.25"/>
<circle cx="135.6" cy="461.6" r="0.5" opacity="0.58"/>
<circle cx="115.2" cy="436.8" r="0.7" opacity="0.31"/>
<circle cx="88.7" cy="469.9" r="0.5" opacity="0.59"/>
<circle cx="120.2" cy="480.4" r="1.0" opacity="0.59"/>
<circle cx="108.1" cy="437.4" r="0.8" opacity="0.35"/>
<circle cx="146.7" cy="472.0" r="1.0" opacity="0.24"/>
<circle cx="78.5" cy="447.0" r="0.6" opacity="0.39"/>
<circle cx="152.0" cy="497.0" r="0.6" opacity="0.43"/>
<circle cx="169.1" cy="518.7" r="0.5" opacity="0.46"/>
<circle cx="89.2" cy="492.9" r="1.0" opacity="0.20"/>
<circle cx="99.4" cy="516.4" r="0.7" opacity="0.20"/>
<circle cx="117.5" cy="453.7" r="0.7" opacity="0.26"/>
<circle cx="179.6" cy="484.1" r="0.8" opacity="0.30"/>
<circle cx="181.9" cy="511.5" r="1.1" opacity="0.18"/>
<circle cx="113.8" cy="500.8" r="0.6" opacity="0.19"/>
<circle cx="136.1" cy="418.5" r="0.9" opacity="0.25"/>
<circle cx="124.2" cy="493.9" r="1.0" opacity="0.40"/>
<circle cx="137.6" cy="461.8" r="1.0" opacity="0.59"/>
<circle cx="42.1" cy="498.0" r="0.5" opacity="0.54"/>
<circle cx="80.5" cy="508.1" r="0.7" opacity="0.33"/>
<circle cx="140.4" cy="471.1" r="0.6" opacity="0.13"/>
<circle cx="147.6" cy="433.4" r="1.2" opacity="0.57"/>
<circle cx="27.9" cy="444.0" r="0.6" opacity="0.24"/>
<circle cx="179.5" cy="476.4" r="0.6" opacity="0.35"/>
<circle cx="36.3" cy="479.8" r="0.5" opacity="0.38"/>
<circle cx="189.8" cy="431.3" r="0.5" opacity="0.52"/>
<circle cx="167.4" cy="444.7" r="1.1" opacity="0.40"/>
<circle cx="147.6" cy="419.2" r="0.6" opacity="0.22"/>
<circle cx="165.7" cy="410.4" r="0.6" opacity="0.28"/>
<circle cx="103.6" cy="422.7" r="0.9" opacity="0.21"/>
<circle cx="157.5" cy="433.8" r="0.5" opacity="0.47"/>
<circle cx="131.4" cy="501.1" r="1.0" opacity="0.31"/>
<circle cx="164.3" cy="497.0" r="1.0" opacity="0.24"/>
<circle cx="104.4" cy="413.4" r="0.9" opacity="0.21"/>
<circle cx="89.5" cy="474.4" r="0.9" opacity="0.42"/>
<circle cx="170.9" cy="410.9" r="0.6" opacity="0.43"/>
<circle cx="104.3" cy="430.4" r="1.0" opacity="0.34"/>
<circle cx="165.0" cy="437.7" r="0.6" opacity="0.45"/>
<circle cx="153.3" cy="508.6" r="0.7" opacity="0.49"/>
<circle cx="184.9" cy="453.9" r="0.7" opacity="0.56"/>
<circle cx="187.6" cy="443.9" r="1.0" opacity="0.34"/>
<circle cx="54.4" cy="410.1" r="1.1" opacity="0.26"/>
<circle cx="40.3" cy="435.9" r="0.5" opacity="0.24"/>
<circle cx="140.3" cy="502.6" r="0.7" opacity="0.29"/>
<circle cx="143.9" cy="493.6" r="0.5" opacity="0.49"/>
<circle cx="162.7" cy="490.0" r="0.6" opacity="0.15"/>
<circle cx="133.8" cy="425.1" r="0.5" opacity="0.33"/>
<circle cx="185.9" cy="454.0" r="0.6" opacity="0.24"/>
<circle cx="157.0" cy="517.4" r="0.6" opacity="0.44"/>
<circle cx="147.4" cy="459.8" r="0.6" opacity="0.18"/>
<circle cx="140.6" cy="437.6" r="0.6" opacity="0.51"/>
<circle cx="116.8" cy="429.6" r="0.5" opacity="0.28"/>
<circle cx="132.3" cy="475.2" r="0.5" opacity="0.47"/>
<circle cx="68.1" cy="419.2" r="0.9" opacity="0.42"/>
<circle cx="165.2" cy="490.2" r="0.7" opacity="0.16"/>
<circle cx="132.6" cy="506.6" r="1.2" opacity="0.16"/>
<circle cx="180.5" cy="492.0" r="0.5" opacity="0.58"/>
<circle cx="165.5" cy="457.5" r="0.5" opacity="0.25"/>
<circle cx="150.6" cy="495.2" r="0.9" opacity="0.41"/>
<circle cx="177.6" cy="484.3" r="0.6" opacity="0.13"/>
<circle cx="95.6" cy="424.2" r="0.8" opacity="0.59"/>
<circle cx="79.7" cy="434.2" r="0.6" opacity="0.15"/>
<circle cx="124.3" cy="479.5" r="0.6" opacity="0.57"/>
<circle cx="187.2" cy="479.1" r="0.6" opacity="0.22"/>
<circle cx="190.0" cy="450.4" r="0.6" opacity="0.44"/>
<circle cx="31.9" cy="478.4" r="0.6" opacity="0.33"/>
<circle cx="119.1" cy="463.7" r="1.2" opacity="0.18"/>
<circle cx="127.5" cy="503.0" r="0.5" opacity="0.60"/>
<circle cx="121.5" cy="429.6" r="1.0" opacity="0.47"/>
<circle cx="185.9" cy="493.4" r="0.7" opacity="0.31"/>
<circle cx="169.2" cy="464.2" r="1.0" opacity="0.34"/>
<circle cx="179.9" cy="429.5" r="0.7" opacity="0.28"/>
<circle cx="150.0" cy="506.7" r="0.8" opacity="0.53"/>
<circle cx="167.7" cy="427.7" r="1.1" opacity="0.20"/>
<circle cx="182.1" cy="510.9" r="0.6" opacity="0.55"/>
<circle cx="188.0" cy="464.8" r="0.8" opacity="0.28"/>
<circle cx="179.3" cy="427.4" r="1.2" opacity="0.12"/>
<circle cx="191.8" cy="504.4" r="0.6" opacity="0.24"/>
<circle cx="134.1" cy="468.5" r="0.7" opacity="0.47"/>
<circle cx="47.5" cy="426.0" r="1.0" opacity="0.48"/>
<circle cx="51.5" cy="441.6" r="0.6" opacity="0.29"/>
<circle cx="75.2" cy="513.5" r="0.8" opacity="0.35"/>
<circle cx="142.0" cy="426.0" r="0.6" opacity="0.43"/>
<circle cx="150.4" cy="519.1" r="0.8" opacity="0.20"/>
<circle cx="56.0" cy="508.2" r="1.2" opacity="0.28"/>
<circle cx="78.2" cy="434.6" r="1.0" opacity="0.50"/>
<circle cx="134.6" cy="449.0" r="1.1" opacity="0.56"/>
<circle cx="113.7" cy="435.0" r="0.9" opacity="0.31"/>
<circle cx="43.4" cy="446.1" r="0.8" opacity="0.38"/>
<circle cx="118.4" cy="420.0" r="1.0" opacity="0.15"/>
<circle cx="176.5" cy="467.2" r="0.5" opacity="0.40"/>
<circle cx="156.3" cy="444.9" r="0.5" opacity="0.18"/>
<circle cx="123.3" cy="504.3" r="1.1" opacity="0.49"/>
<circle cx="126.5" cy="463.9" r="0.7" opacity="0.37"/>
<circle cx="183.5" cy="463.4" r="1.2" opacity="0.35"/>
<circle cx="132.6" cy="469.0" r="1.0" opacity="0.49"/>
<circle cx="114.8" cy="421.3" r="0.8" opacity="0.39"/>
<circle cx="157.1" cy="503.3" r="0.5" opacity="0.58"/>
<circle cx="189.4" cy="481.6" r="1.0" opacity="0.25"/>
<circle cx="187.7" cy="415.0" r="0.9" opacity="0.56"/>
<circle cx="60.1" cy="419.6" r="0.8" opacity="0.49"/>
<circle cx="30.6" cy="494.5" r="1.0" opacity="0.46"/>
<circle cx="100.8" cy="506.9" r="0.7" opacity="0.34"/>
<circle cx="69.3" cy="491.9" r="0.5" opacity="0.32"/>
<circle cx="92.6" cy="463.3" r="0.7" opacity="0.56"/>
<circle cx="157.8" cy="463.9" r="0.8" opacity="0.47"/>
<circle cx="191.3" cy="492.3" r="0.7" opacity="0.25"/>
<circle cx="162.7" cy="457.3" r="0.8" opacity="0.12"/>
<circle cx="164.1" cy="412.1" r="0.7" opacity="0.24"/>
<circle cx="61.1" cy="429.9" r="0.8" opacity="0.53"/>
<circle cx="81.2" cy="444.5" r="0.5" opacity="0.27"/>
<circle cx="63.0" cy="448.9" r="1.1" opacity="0.33"/>
<circle cx="165.1" cy="451.1" r="0.9" opacity="0.48"/>
<circle cx="151.1" cy="444.7" r="1.2" opacity="0.50"/>
<circle cx="86.6" cy="438.0" r="0.7" opacity="0.12"/>
<circle cx="192.5" cy="419.2" r="0.6" opacity="0.35"/>
<circle cx="184.4" cy="440.1" r="0.6" opacity="0.19"/>
<circle cx="68.2" cy="471.8" r="0.5" opacity="0.45"/>
<circle cx="170.4" cy="482.4" r="0.6" opacity="0.20"/>
<circle cx="149.8" cy="498.7" r="1.1" opacity="0.17"/>
<circle cx="130.5" cy="509.5" r="0.6" opacity="0.50"/>
<circle cx="81.9" cy="507.3" r="1.1" opacity="0.56"/>
<circle cx="113.9" cy="427.3" r="1.1" opacity="0.16"/>
<circle cx="190.5" cy="422.3" r="1.2" opacity="0.53"/>
<circle cx="176.4" cy="424.0" r="0.6" opacity="0.41"/>
<circle cx="168.0" cy="431.5" r="0.5" opacity="0.57"/>
<circle cx="64.3" cy="419.0" r="0.6" opacity="0.55"/>
<circle cx="44.4" cy="434.8" r="0.9" opacity="0.28"/>
<circle cx="188.2" cy="483.2" r="0.8" opacity="0.54"/>
<circle cx="152.8" cy="424.4" r="0.9" opacity="0.40"/>
<circle cx="90.7" cy="415.3" r="0.5" opacity="0.19"/>
<circle cx="32.6" cy="497.0" r="0.6" opacity="0.39"/>
<circle cx="162.2" cy="473.2" r="0.5" opacity="0.42"/>
<circle cx="117.3" cy="422.9" r="1.0" opacity="0.56"/>
<circle cx="160.6" cy="463.4" r="0.9" opacity="0.44"/>
<circle cx="83.7" cy="466.8" r="0.6" opacity="0.43"/>
<circle cx="186.7" cy="423.8" r="0.7" opacity="0.17"/>
<circle cx="89.0" cy="421.0" r="0.8" opacity="0.42"/>
<circle cx="166.6" cy="492.2" r="1.2" opacity="0.41"/>
<circle cx="187.9" cy="507.9" r="0.5" opacity="0.57"/>
<circle cx="185.8" cy="416.5" r="0.5" opacity="0.51"/>
<circle cx="183.3" cy="426.6" r="0.9" opacity="0.49"/>
<circle cx="136.3" cy="442.7" r="0.9" opacity="0.34"/>
<circle cx="90.1" cy="507.6" r="0.7" opacity="0.40"/>
<circle cx="152.5" cy="434.6" r="1.2" opacity="0.41"/>
<circle cx="165.4" cy="517.6" r="0.5" opacity="0.51"/>
<circle cx="158.3" cy="514.5" r="0.5" opacity="0.49"/>
<circle cx="31.0" cy="513.6" r="1.2" opacity="0.50"/>
<circle cx="147.7" cy="503.0" r="1.0" opacity="0.29"/>
<circle cx="188.1" cy="437.2" r="0.5" opacity="0.34"/>
<circle cx="151.9" cy="515.0" r="0.5" opacity="0.40"/>
<circle cx="177.4" cy="486.7" r="1.0" opacity="0.38"/>
<circle cx="173.9" cy="442.2" r="0.5" opacity="0.60"/>
<circle cx="137.5" cy="440.0" r="1.0" opacity="0.59"/>
<circle cx="62.7" cy="411.4" r="0.5" opacity="0.41"/>
<circle cx="165.7" cy="455.4" r="0.8" opacity="0.32"/>
<circle cx="167.3" cy="473.6" r="1.1" opacity="0.59"/>
<circle cx="160.0" cy="438.9" r="1.1" opacity="0.57"/>
<circle cx="67.9" cy="468.9" r="1.2" opacity="0.50"/>
<circle cx="160.6" cy="476.1" r="0.9" opacity="0.43"/>
<circle cx="51.5" cy="484.7" r="0.9" opacity="0.39"/>
<circle cx="183.8" cy="489.7" r="0.7" opacity="0.46"/>
<circle cx="183.0" cy="518.0" r="0.7" opacity="0.38"/>
<circle cx="172.0" cy="513.6" r="0.7" opacity="0.45"/>
<circle cx="144.9" cy="449.2" r="1.2" opacity="0.41"/>
<circle cx="108.9" cy="423.1" r="1.2" opacity="0.40"/>
<circle cx="184.1" cy="452.4" r="0.9" opacity="0.19"/>
<circle cx="144.1" cy="506.3" r="0.5" opacity="0.31"/>
<circle cx="36.8" cy="450.9" r="1.2" opacity="0.37"/>
<circle cx="27.8" cy="452.1" r="1.1" opacity="0.39"/>
<circle cx="169.2" cy="514.7" r="0.8" opacity="0.21"/>
<circle cx="178.0" cy="475.7" r="1.1" opacity="0.46"/>
<circle cx="172.6" cy="429.4" r="1.0" opacity="0.13"/>
<circle cx="182.7" cy="498.4" r="0.6" opacity="0.29"/>
<circle cx="99.0" cy="419.0" r="0.5" opacity="0.39"/>
<circle cx="154.6" cy="494.4" r="0.7" opacity="0.14"/>
<circle cx="183.7" cy="443.6" r="1.1" opacity="0.38"/>
<circle cx="34.8" cy="443.2" r="1.2" opacity="0.15"/>
<circle cx="163.6" cy="505.7" r="0.7" opacity="0.21"/>
<circle cx="144.9" cy="418.0" r="0.5" opacity="0.43"/>
<circle cx="29.6" cy="511.0" r="0.9" opacity="0.56"/>
<circle cx="34.4" cy="425.5" r="0.9" opacity="0.54"/>
<circle cx="176.1" cy="499.4" r="0.8" opacity="0.42"/>
<circle cx="121.4" cy="421.9" r="1.0" opacity="0.54"/>
<circle cx="184.3" cy="470.7" r="0.5" opacity="0.60"/>
<circle cx="104.6" cy="422.0" r="1.0" opacity="0.21"/>
<circle cx="153.2" cy="498.3" r="0.8" opacity="0.33"/>
<circle cx="50.6" cy="475.4" r="1.2" opacity="0.49"/>
<circle cx="121.1" cy="513.9" r="1.2" opacity="0.56"/>
<circle cx="91.8" cy="426.8" r="0.5" opacity="0.21"/>
<circle cx="171.2" cy="417.6" r="0.7" opacity="0.39"/>
<circle cx="50.7" cy="515.6" r="0.9" opacity="0.32"/>
<circle cx="115.4" cy="477.7" r="1.2" opacity="0.30"/>
<circle cx="50.7" cy="421.4" r="0.6" opacity="0.39"/>
<circle cx="161.7" cy="494.2" r="0.5" opacity="0.42"/>
<circle cx="177.7" cy="512.6" r="0.6" opacity="0.42"/>
<circle cx="102.3" cy="510.7" r="0.7" opacity="0.29"/>
<circle cx="50.9" cy="479.8" r="1.2" opacity="0.60"/>
<circle cx="173.0" cy="450.3" r="1.0" opacity="0.19"/>
<circle cx="62.9" cy="430.9" r="1.1" opacity="0.44"/>
<circle cx="153.4" cy="454.7" r="0.5" opacity="0.19"/>
<circle cx="164.8" cy="494.8" r="0.5" opacity="0.22"/>
<circle cx="157.2" cy="419.4" r="1.1" opacity="0.15"/>
<circle cx="60.6" cy="426.5" r="1.1" opacity="0.29"/>
<circle cx="176.6" cy="516.9" r="0.5" opacity="0.33"/>
<circle cx="152.1" cy="424.8" r="0.6" opacity="0.20"/>
<circle cx="181.1" cy="474.0" r="1.1" opacity="0.59"/>
<circle cx="190.5" cy="507.1" r="0.5" opacity="0.26"/>
<circle cx="55.0" cy="503.2" r="0.6" opacity="0.37"/>
<circle cx="101.3" cy="457.4" r="1.0" opacity="0.48"/>
<circle cx="148.6" cy="412.1" r="1.1" opacity="0.30"/>
<circle cx="156.8" cy="454.6" r="1.2" opacity="0.47"/>
<circle cx="118.4" cy="463.5" r="1.1" opacity="0.56"/>
<circle cx="160.4" cy="421.7" r="0.6" opacity="0.19"/>
<circle cx="171.0" cy="477.6" r="0.8" opacity="0.54"/>
<circle cx="60.0" cy="491.7" r="0.5" opacity="0.58"/>
<circle cx="114.6" cy="462.1" r="1.2" opacity="0.41"/>
<circle cx="170.2" cy="416.7" r="0.5" opacity="0.20"/>
<circle cx="188.0" cy="486.6" r="0.5" opacity="0.21"/>
<circle cx="80.2" cy="518.6" r="0.8" opacity="0.40"/>
<circle cx="126.6" cy="465.5" r="0.7" opacity="0.52"/>
<circle cx="187.2" cy="437.6" r="0.5" opacity="0.15"/>
<circle cx="192.4" cy="430.8" r="0.5" opacity="0.29"/>
<circle cx="167.1" cy="516.5" r="1.1" opacity="0.34"/>
<circle cx="190.8" cy="479.2" r="0.5" opacity="0.50"/>
<circle cx="51.8" cy="446.9" r="0.6" opacity="0.27"/>
<circle cx="185.1" cy="470.2" r="0.7" opacity="0.47"/>
<circle cx="98.6" cy="513.7" r="1.2" opacity="0.15"/>
<circle cx="186.1" cy="417.3" r="0.7" opacity="0.26"/>
<circle cx="95.9" cy="411.4" r="0.5" opacity="0.42"/>
<circle cx="140.2" cy="457.0" r="0.5" opacity="0.26"/>
<circle cx="88.2" cy="516.3" r="0.7" opacity="0.32"/>
<circle cx="61.7" cy="445.7" r="1.1" opacity="0.27"/>
<circle cx="131.7" cy="516.3" r="0.8" opacity="0.23"/>
<circle cx="162.7" cy="463.5" r="0.5" opacity="0.37"/>
<circle cx="174.4" cy="514.9" r="0.7" opacity="0.49"/>
<circle cx="158.0" cy="440.2" r="1.1" opacity="0.15"/>
<circle cx="163.5" cy="462.8" r="0.6" opacity="0.27"/>
<circle cx="190.1" cy="476.2" r="1.0" opacity="0.43"/>
<circle cx="185.5" cy="475.4" r="0.9" opacity="0.47"/>
<circle cx="28.8" cy="438.6" r="0.5" opacity="0.43"/>
<circle cx="153.2" cy="418.6" r="1.1" opacity="0.19"/>
<circle cx="152.5" cy="421.8" r="0.6" opacity="0.46"/>
<circle cx="102.0" cy="427.8" r="1.2" opacity="0.18"/>
<circle cx="170.6" cy="470.5" r="0.6" opacity="0.47"/>
<circle cx="121.1" cy="506.7" r="0.9" opacity="0.18"/>
<circle cx="37.6" cy="417.4" r="0.7" opacity="0.57"/>
<circle cx="133.2" cy="453.4" r="1.0" opacity="0.51"/>
<circle cx="64.3" cy="414.6" r="0.5" opacity="0.19"/>
<circle cx="171.1" cy="464.8" r="1.0" opacity="0.44"/>
<circle cx="137.8" cy="486.3" r="0.5" opacity="0.40"/>
<circle cx="61.6" cy="473.8" r="0.9" opacity="0.40"/>
<circle cx="87.9" cy="508.4" r="0.5" opacity="0.38"/>
<circle cx="178.5" cy="491.5" r="0.8" opacity="0.37"/>
<circle cx="46.7" cy="441.2" r="0.8" opacity="0.43"/>
<circle cx="111.7" cy="454.4" r="0.5" opacity="0.51"/>
<circle cx="149.9" cy="505.7" r="0.8" opacity="0.48"/>
<circle cx="162.4" cy="449.5" r="0.8" opacity="0.39"/>
<circle cx="173.4" cy="437.6" r="0.6" opacity="0.22"/>
<circle cx="146.2" cy="488.8" r="0.6" opacity="0.48"/>
<circle cx="179.4" cy="462.6" r="1.0" opacity="0.44"/>
<circle cx="182.2" cy="418.5" r="0.5" opacity="0.13"/>
<circle cx="35.3" cy="411.2" r="0.5" opacity="0.33"/>
<circle cx="147.6" cy="515.3" r="0.6" opacity="0.43"/>
<circle cx="187.7" cy="491.2" r="0.6" opacity="0.43"/>
<circle cx="76.2" cy="413.8" r="0.5" opacity="0.34"/>
<circle cx="92.8" cy="451.3" r="0.7" opacity="0.34"/>
<circle cx="144.5" cy="488.7" r="0.5" opacity="0.44"/>
<circle cx="186.4" cy="430.6" r="1.0" opacity="0.60"/>
<circle cx="145.4" cy="491.3" r="0.5" opacity="0.30"/>
<circle cx="162.8" cy="469.6" r="1.1" opacity="0.47"/>
<circle cx="189.8" cy="494.0" r="0.9" opacity="0.55"/>
<circle cx="41.3" cy="437.7" r="1.2" opacity="0.43"/>
<circle cx="189.6" cy="425.9" r="0.8" opacity="0.48"/>
<circle cx="158.1" cy="500.3" r="1.0" opacity="0.54"/>
<circle cx="190.9" cy="469.6" r="0.8" opacity="0.24"/>
<circle cx="140.2" cy="496.3" r="0.6" opacity="0.52"/>
<circle cx="162.6" cy="434.0" r="0.6" opacity="0.48"/>
<circle cx="165.1" cy="508.0" r="0.5" opacity="0.50"/>
<circle cx="110.5" cy="421.8" r="0.5" opacity="0.58"/>
<circle cx="30.9" cy="413.4" r="0.5" opacity="0.49"/>
<circle cx="142.5" cy="442.9" r="0.5" opacity="0.33"/>
<circle cx="33.9" cy="463.8" r="0.6" opacity="0.13"/>
<circle cx="143.0" cy="504.3" r="0.7" opacity="0.17"/>
<circle cx="141.0" cy="477.9" r="1.2" opacity="0.36"/>
<circle cx="176.9" cy="462.0" r="0.5" opacity="0.47"/>
<circle cx="145.4" cy="511.0" r="1.0" opacity="0.24"/>
<circle cx="189.9" cy="413.8" r="1.0" opacity="0.53"/>
<circle cx="62.8" cy="455.0" r="0.5" opacity="0.53"/>
<circle cx="156.2" cy="512.4" r="0.7" opacity="0.34"/>
<circle cx="75.6" cy="427.8" r="0.6" opacity="0.17"/>
<circle cx="52.6" cy="501.7" r="0.7" opacity="0.12"/>
<circle cx="154.8" cy="414.8" r="0.6" opacity="0.45"/>
<circle cx="166.9" cy="435.0" r="0.9" opacity="0.56"/>
<circle cx="183.7" cy="471.6" r="0.6" opacity="0.46"/>
<circle cx="177.0" cy="505.9" r="0.5" opacity="0.39"/>
<circle cx="88.8" cy="438.8" r="1.0" opacity="0.21"/>
<circle cx="28.5" cy="506.4" r="1.2" opacity="0.53"/>
<circle cx="159.6" cy="430.7" r="0.7" opacity="0.17"/>
<circle cx="160.0" cy="426.0" r="0.7" opacity="0.53"/>
<circle cx="166.0" cy="449.6" r="0.5" opacity="0.15"/>
<circle cx="157.8" cy="507.3" r="1.0" opacity="0.20"/>
<circle cx="98.6" cy="413.4" r="0.5" opacity="0.55"/>
<circle cx="178.8" cy="443.2" r="0.6" opacity="0.27"/>
<circle cx="184.0" cy="466.0" r="1.1" opacity="0.45"/>
<circle cx="142.1" cy="511.1" r="0.9" opacity="0.40"/>
<circle cx="176.9" cy="509.3" r="0.6" opacity="0.27"/>
<circle cx="163.7" cy="466.7" r="0.5" opacity="0.32"/>
<circle cx="164.4" cy="430.0" r="0.7" opacity="0.24"/>
<circle cx="189.8" cy="410.4" r="1.2" opacity="0.57"/>
<circle cx="156.7" cy="511.4" r="0.5" opacity="0.55"/>
<circle cx="120.8" cy="411.1" r="0.8" opacity="0.25"/>
<circle cx="166.1" cy="426.6" r="0.6" opacity="0.23"/>
<circle cx="160.3" cy="500.4" r="0.8" opacity="0.58"/>
<circle cx="71.6" cy="463.2" r="1.1" opacity="0.23"/>
<circle cx="103.0" cy="428.1" r="0.5" opacity="0.17"/>
<circle cx="126.3" cy="452.3" r="0.5" opacity="0.16"/>
<circle cx="165.7" cy="476.4" r="0.9" opacity="0.41"/>
<circle cx="68.2" cy="441.8" r="0.8" opacity="0.35"/>
<circle cx="41.8" cy="437.9" r="0.6" opacity="0.60"/>
<circle cx="167.0" cy="517.2" r="1.0" opacity="0.16"/>
<circle cx="178.6" cy="420.1" r="0.5" opacity="0.16"/>
<circle cx="181.2" cy="459.6" r="1.1" opacity="0.25"/>
<circle cx="178.6" cy="435.1" r="0.7" opacity="0.23"/>
<circle cx="59.3" cy="488.0" r="0.5" opacity="0.51"/>
<circle cx="152.9" cy="489.2" r="1.2" opacity="0.24"/>
<circle cx="36.4" cy="424.8" r="0.5" opacity="0.18"/>
<circle cx="169.6" cy="501.4" r="0.6" opacity="0.24"/>
<circle cx="56.0" cy="422.0" r="0.8" opacity="0.48"/>
<circle cx="38.1" cy="451.3" r="0.7" opacity="0.50"/>
<circle cx="183.1" cy="448.8" r="0.9" opacity="0.48"/>
<circle cx="151.4" cy="467.3" r="0.7" opacity="0.36"/>
<circle cx="160.2" cy="432.7" r="0.6" opacity="0.26"/>
<circle cx="127.0" cy="455.2" r="0.6" opacity="0.27"/>
<circle cx="157.8" cy="492.0" r="0.6" opacity="0.24"/>
<circle cx="173.0" cy="460.7" r="0.5" opacity="0.57"/>
<circle cx="175.5" cy="511.0" r="0.5" opacity="0.34"/>
<circle cx="106.4" cy="448.6" r="1.2" opacity="0.20"/>
<circle cx="191.2" cy="426.0" r="0.5" opacity="0.13"/>
<circle cx="63.2" cy="467.1" r="0.6" opacity="0.50"/>
<circle cx="35.4" cy="466.6" r="0.7" opacity="0.35"/>
<circle cx="147.6" cy="472.0" r="1.2" opacity="0.57"/>
<circle cx="146.6" cy="439.2" r="1.1" opacity="0.16"/>
<circle cx="90.5" cy="453.2" r="0.6" opacity="0.58"/>
<circle cx="163.7" cy="426.6" r="0.5" opacity="0.56"/>
<circle cx="70.9" cy="462.9" r="0.7" opacity="0.59"/>
<circle cx="180.1" cy="464.0" r="0.7" opacity="0.55"/>
<circle cx="185.2" cy="438.3" r="1.1" opacity="0.51"/>
<circle cx="188.0" cy="518.5" r="0.8" opacity="0.50"/>
<circle cx="103.8" cy="426.8" r="0.8" opacity="0.29"/>
<circle cx="149.9" cy="455.9" r="0.5" opacity="0.20"/>
<circle cx="106.6" cy="511.7" r="0.6" opacity="0.55"/>
<circle cx="99.1" cy="499.2" r="0.7" opacity="0.13"/>
<circle cx="182.2" cy="422.9" r="1.1" opacity="0.36"/>
<circle cx="185.6" cy="474.4" r="1.1" opacity="0.26"/>
<circle cx="128.0" cy="428.1" r="0.6" opacity="0.30"/>
<circle cx="134.2" cy="518.6" r="0.5" opacity="0.18"/>
<circle cx="189.8" cy="450.2" r="1.0" opacity="0.29"/>
<circle cx="191.4" cy="421.8" r="0.8" opacity="0.37"/>
<circle cx="164.7" cy="441.1" r="0.8" opacity="0.24"/>
<circle cx="133.5" cy="486.6" r="0.8" opacity="0.45"/>
<circle cx="142.0" cy="498.7" r="0.7" opacity="0.26"/>
<circle cx="81.1" cy="436.4" r="0.5" opacity="0.16"/>
<circle cx="124.3" cy="422.9" r="0.7" opacity="0.19"/>
<circle cx="61.7" cy="461.8" r="0.5" opacity="0.21"/>
<circle cx="187.0" cy="456.2" r="1.1" opacity="0.39"/>
<circle cx="184.9" cy="455.5" r="1.2" opacity="0.19"/>
<circle cx="173.3" cy="436.3" r="1.2" opacity="0.56"/>
<circle cx="163.4" cy="464.9" r="0.6" opacity="0.44"/>
<circle cx="148.9" cy="465.3" r="1.1" opacity="0.60"/>
</g>
</g>
<rect x="27.0" y="409" width="165.5" height="1" fill="#cfd8cf"/>
<g font-weight="bold" fill="#fff">
<text x="34.8" y="313.6" font-size="7.6">Control</text>
<text x="35.1" y="423.5" font-size="7.3">1mg/mL Rhamnolipid-treated</text>
<text x="37" y="396.8" font-size="7">50 µm</text>
<text x="36.4" y="505.4" font-size="7">50 µm</text>
</g>
<rect x="37" y="400.6" width="16.5" height="3.2" fill="#fff"/>
<rect x="36.3" y="509.8" width="16.3" height="3.2" fill="#fff"/>

<rect x="4.50" y="4.50" width="448.00" height="541.00" fill="none" stroke="#666" stroke-width="1.2"/>
<text x="12.70" y="28.50" font-size="13.2" font-weight="bold" text-anchor="start" fill="#000"  stroke="#000" stroke-width="0.3">A</text>
<text x="11.10" y="295.90" font-size="13.2" font-weight="bold" text-anchor="start" fill="#000"  stroke="#000" stroke-width="0.3">B</text>
<text x="212.20" y="296.30" font-size="13.2" font-weight="bold" text-anchor="start" fill="#000"  stroke="#000" stroke-width="0.3">C</text>
<rect x="60.30" y="113.49" width="10.05" height="119.51" fill="#000000" />
<line x1="65.25" y1="113.19" x2="65.25" y2="113.79" stroke="#222" stroke-width="0.9" />
<line x1="62.25" y1="113.19" x2="68.25" y2="113.19" stroke="#222" stroke-width="0.9" />
<line x1="62.25" y1="113.79" x2="68.25" y2="113.79" stroke="#222" stroke-width="0.9" />
<text x="65.25" y="111.19" font-size="8.6" font-weight="normal" text-anchor="middle" fill="#000" stroke="#000" stroke-width="0.2">a</text>
<rect x="70.20" y="110.01" width="10.05" height="122.99" fill="#8A8ECC" />
<line x1="75.15" y1="109.41" x2="75.15" y2="110.61" stroke="#222" stroke-width="0.9" />
<line x1="72.15" y1="109.41" x2="78.15" y2="109.41" stroke="#222" stroke-width="0.9" />
<line x1="72.15" y1="110.61" x2="78.15" y2="110.61" stroke="#222" stroke-width="0.9" />
<text x="75.15" y="107.41" font-size="8.6" font-weight="normal" text-anchor="middle" fill="#000" stroke="#000" stroke-width="0.2">b</text>
<rect x="80.10" y="110.47" width="10.05" height="122.53" fill="#F0B27A" />
<line x1="85.05" y1="109.47" x2="85.05" y2="111.47" stroke="#222" stroke-width="0.9" />
<line x1="82.05" y1="109.47" x2="88.05" y2="109.47" stroke="#222" stroke-width="0.9" />
<line x1="82.05" y1="111.47" x2="88.05" y2="111.47" stroke="#222" stroke-width="0.9" />
<text x="85.05" y="107.47" font-size="8.6" font-weight="normal" text-anchor="middle" fill="#000" stroke="#000" stroke-width="0.2">b</text>
<rect x="90.00" y="110.47" width="10.05" height="122.53" fill="#F44040" />
<line x1="94.95" y1="109.47" x2="94.95" y2="111.47" stroke="#222" stroke-width="0.9" />
<line x1="91.95" y1="109.47" x2="97.95" y2="109.47" stroke="#222" stroke-width="0.9" />
<line x1="91.95" y1="111.47" x2="97.95" y2="111.47" stroke="#222" stroke-width="0.9" />
<text x="94.95" y="107.47" font-size="8.6" font-weight="normal" text-anchor="middle" fill="#000" stroke="#000" stroke-width="0.2">b</text>
<rect x="99.90" y="121.40" width="10.05" height="111.60" fill="#A8D8A8" />
<line x1="104.85" y1="120.20" x2="104.85" y2="122.60" stroke="#222" stroke-width="0.9" />
<line x1="101.85" y1="120.20" x2="107.85" y2="120.20" stroke="#222" stroke-width="0.9" />
<line x1="101.85" y1="122.60" x2="107.85" y2="122.60" stroke="#222" stroke-width="0.9" />
<text x="104.85" y="118.20" font-size="8.6" font-weight="normal" text-anchor="middle" fill="#000" stroke="#000" stroke-width="0.2">c</text>
<rect x="109.80" y="121.40" width="10.05" height="111.60" fill="#8CBAF4" />
<line x1="114.75" y1="120.60" x2="114.75" y2="122.20" stroke="#222" stroke-width="0.9" />
<line x1="111.75" y1="120.60" x2="117.75" y2="120.60" stroke="#222" stroke-width="0.9" />
<line x1="111.75" y1="122.20" x2="117.75" y2="122.20" stroke="#222" stroke-width="0.9" />
<text x="114.75" y="118.60" font-size="8.6" font-weight="normal" text-anchor="middle" fill="#000" stroke="#000" stroke-width="0.2">c</text>
<rect x="119.70" y="126.98" width="10.05" height="106.02" fill="#BCAE6E" />
<line x1="124.65" y1="124.78" x2="124.65" y2="129.18" stroke="#222" stroke-width="0.9" />
<line x1="121.65" y1="124.78" x2="127.65" y2="124.78" stroke="#222" stroke-width="0.9" />
<line x1="121.65" y1="129.18" x2="127.65" y2="129.18" stroke="#222" stroke-width="0.9" />
<text x="124.65" y="122.78" font-size="8.6" font-weight="normal" text-anchor="middle" fill="#000" stroke="#000" stroke-width="0.2">d</text>
<rect x="129.60" y="127.68" width="10.05" height="105.32" fill="#9E9C9E" />
<line x1="134.55" y1="125.68" x2="134.55" y2="129.68" stroke="#222" stroke-width="0.9" />
<line x1="131.55" y1="125.68" x2="137.55" y2="125.68" stroke="#222" stroke-width="0.9" />
<line x1="131.55" y1="129.68" x2="137.55" y2="129.68" stroke="#222" stroke-width="0.9" />
<text x="134.55" y="123.68" font-size="8.6" font-weight="normal" text-anchor="middle" fill="#000" stroke="#000" stroke-width="0.2">d</text>
<rect x="168.30" y="88.50" width="10.05" height="144.50" fill="#000000" />
<line x1="173.25" y1="87.90" x2="173.25" y2="89.10" stroke="#222" stroke-width="0.9" />
<line x1="170.25" y1="87.90" x2="176.25" y2="87.90" stroke="#222" stroke-width="0.9" />
<line x1="170.25" y1="89.10" x2="176.25" y2="89.10" stroke="#222" stroke-width="0.9" />
<text x="173.25" y="85.90" font-size="8.6" font-weight="normal" text-anchor="middle" fill="#000" stroke="#000" stroke-width="0.2">a</text>
<rect x="178.20" y="99.31" width="10.05" height="133.69" fill="#8A8ECC" />
<line x1="183.15" y1="95.01" x2="183.15" y2="103.61" stroke="#222" stroke-width="0.9" />
<line x1="180.15" y1="95.01" x2="186.15" y2="95.01" stroke="#222" stroke-width="0.9" />
<line x1="180.15" y1="103.61" x2="186.15" y2="103.61" stroke="#222" stroke-width="0.9" />
<text x="183.15" y="93.01" font-size="8.6" font-weight="normal" text-anchor="middle" fill="#000" stroke="#000" stroke-width="0.2">b</text>
<rect x="188.10" y="102.57" width="10.05" height="130.43" fill="#F0B27A" />
<line x1="193.05" y1="100.07" x2="193.05" y2="105.07" stroke="#222" stroke-width="0.9" />
<line x1="190.05" y1="100.07" x2="196.05" y2="100.07" stroke="#222" stroke-width="0.9" />
<line x1="190.05" y1="105.07" x2="196.05" y2="105.07" stroke="#222" stroke-width="0.9" />
<text x="193.05" y="98.07" font-size="8.6" font-weight="normal" text-anchor="middle" fill="#000" stroke="#000" stroke-width="0.2">b</text>
<rect x="198.00" y="113.26" width="10.05" height="119.74" fill="#F44040" />
<line x1="202.95" y1="111.56" x2="202.95" y2="114.96" stroke="#222" stroke-width="0.9" />
<line x1="199.95" y1="111.56" x2="205.95" y2="111.56" stroke="#222" stroke-width="0.9" />
<line x1="199.95" y1="114.96" x2="205.95" y2="114.96" stroke="#222" stroke-width="0.9" />
<text x="202.95" y="109.56" font-size="8.6" font-weight="normal" text-anchor="middle" fill="#000" stroke="#000" stroke-width="0.2">c</text>
<rect x="207.90" y="113.26" width="10.05" height="119.74" fill="#A8D8A8" />
<line x1="212.85" y1="111.26" x2="212.85" y2="115.26" stroke="#222" stroke-width="0.9" />
<line x1="209.85" y1="111.26" x2="215.85" y2="111.26" stroke="#222" stroke-width="0.9" />
<line x1="209.85" y1="115.26" x2="215.85" y2="115.26" stroke="#222" stroke-width="0.9" />
<text x="212.85" y="109.26" font-size="8.6" font-weight="normal" text-anchor="middle" fill="#000" stroke="#000" stroke-width="0.2">c</text>
<rect x="217.80" y="120.47" width="10.05" height="112.53" fill="#8CBAF4" />
<line x1="222.75" y1="119.27" x2="222.75" y2="121.67" stroke="#222" stroke-width="0.9" />
<line x1="219.75" y1="119.27" x2="225.75" y2="119.27" stroke="#222" stroke-width="0.9" />
<line x1="219.75" y1="121.67" x2="225.75" y2="121.67" stroke="#222" stroke-width="0.9" />
<text x="222.75" y="117.27" font-size="8.6" font-weight="normal" text-anchor="middle" fill="#000" stroke="#000" stroke-width="0.2">d</text>
<rect x="227.70" y="127.68" width="10.05" height="105.32" fill="#BCAE6E" />
<line x1="232.65" y1="123.98" x2="232.65" y2="131.38" stroke="#222" stroke-width="0.9" />
<line x1="229.65" y1="123.98" x2="235.65" y2="123.98" stroke="#222" stroke-width="0.9" />
<line x1="229.65" y1="131.38" x2="235.65" y2="131.38" stroke="#222" stroke-width="0.9" />
<text x="232.65" y="121.98" font-size="8.6" font-weight="normal" text-anchor="middle" fill="#000" stroke="#000" stroke-width="0.2">e</text>
<rect x="237.60" y="133.95" width="10.05" height="99.05" fill="#9E9C9E" />
<line x1="242.55" y1="130.15" x2="242.55" y2="137.75" stroke="#222" stroke-width="0.9" />
<line x1="239.55" y1="130.15" x2="245.55" y2="130.15" stroke="#222" stroke-width="0.9" />
<line x1="239.55" y1="137.75" x2="245.55" y2="137.75" stroke="#222" stroke-width="0.9" />
<text x="242.55" y="128.15" font-size="8.6" font-weight="normal" text-anchor="middle" fill="#000" stroke="#000" stroke-width="0.2">f</text>
<rect x="276.60" y="70.48" width="10.05" height="162.52" fill="#000000" />
<line x1="281.55" y1="69.98" x2="281.55" y2="70.98" stroke="#222" stroke-width="0.9" />
<line x1="278.55" y1="69.98" x2="284.55" y2="69.98" stroke="#222" stroke-width="0.9" />
<line x1="278.55" y1="70.98" x2="284.55" y2="70.98" stroke="#222" stroke-width="0.9" />
<text x="281.55" y="67.98" font-size="8.6" font-weight="normal" text-anchor="middle" fill="#000" stroke="#000" stroke-width="0.2">a</text>
<rect x="286.50" y="78.39" width="10.05" height="154.61" fill="#8A8ECC" />
<line x1="291.45" y1="74.59" x2="291.45" y2="82.19" stroke="#222" stroke-width="0.9" />
<line x1="288.45" y1="74.59" x2="294.45" y2="74.59" stroke="#222" stroke-width="0.9" />
<line x1="288.45" y1="82.19" x2="294.45" y2="82.19" stroke="#222" stroke-width="0.9" />
<text x="291.45" y="72.59" font-size="8.6" font-weight="normal" text-anchor="middle" fill="#000" stroke="#000" stroke-width="0.2">b</text>
<rect x="296.40" y="95.36" width="10.05" height="137.64" fill="#F0B27A" />
<line x1="301.35" y1="94.86" x2="301.35" y2="95.86" stroke="#222" stroke-width="0.9" />
<line x1="298.35" y1="94.86" x2="304.35" y2="94.86" stroke="#222" stroke-width="0.9" />
<line x1="298.35" y1="95.86" x2="304.35" y2="95.86" stroke="#222" stroke-width="0.9" />
<text x="301.35" y="92.86" font-size="8.6" font-weight="normal" text-anchor="middle" fill="#000" stroke="#000" stroke-width="0.2">c</text>
<rect x="306.30" y="110.01" width="10.05" height="122.99" fill="#F44040" />
<line x1="311.25" y1="106.01" x2="311.25" y2="114.01" stroke="#222" stroke-width="0.9" />
<line x1="308.25" y1="106.01" x2="314.25" y2="106.01" stroke="#222" stroke-width="0.9" />
<line x1="308.25" y1="114.01" x2="314.25" y2="114.01" stroke="#222" stroke-width="0.9" />
<text x="311.25" y="104.01" font-size="8.6" font-weight="normal" text-anchor="middle" fill="#000" stroke="#000" stroke-width="0.2">d</text>
<rect x="316.20" y="114.19" width="10.05" height="118.81" fill="#A8D8A8" />
<line x1="321.15" y1="113.69" x2="321.15" y2="114.69" stroke="#222" stroke-width="0.9" />
<line x1="318.15" y1="113.69" x2="324.15" y2="113.69" stroke="#222" stroke-width="0.9" />
<line x1="318.15" y1="114.69" x2="324.15" y2="114.69" stroke="#222" stroke-width="0.9" />
<text x="321.15" y="111.69" font-size="8.6" font-weight="normal" text-anchor="middle" fill="#000" stroke="#000" stroke-width="0.2">d</text>
<rect x="326.10" y="132.09" width="10.05" height="100.91" fill="#8CBAF4" />
<line x1="331.05" y1="128.79" x2="331.05" y2="135.40" stroke="#222" stroke-width="0.9" />
<line x1="328.05" y1="128.79" x2="334.05" y2="128.79" stroke="#222" stroke-width="0.9" />
<line x1="328.05" y1="135.40" x2="334.05" y2="135.40" stroke="#222" stroke-width="0.9" />
<text x="331.05" y="126.79" font-size="8.6" font-weight="normal" text-anchor="middle" fill="#000" stroke="#000" stroke-width="0.2">e</text>
<rect x="336.00" y="158.13" width="10.05" height="74.87" fill="#BCAE6E" />
<line x1="340.95" y1="153.13" x2="340.95" y2="163.13" stroke="#222" stroke-width="0.9" />
<line x1="337.95" y1="153.13" x2="343.95" y2="153.13" stroke="#222" stroke-width="0.9" />
<line x1="337.95" y1="163.13" x2="343.95" y2="163.13" stroke="#222" stroke-width="0.9" />
<text x="340.95" y="151.13" font-size="8.6" font-weight="normal" text-anchor="middle" fill="#000" stroke="#000" stroke-width="0.2">f</text>
<rect x="345.90" y="165.81" width="10.05" height="67.19" fill="#9E9C9E" />
<line x1="350.85" y1="162.01" x2="350.85" y2="169.61" stroke="#222" stroke-width="0.9" />
<line x1="347.85" y1="162.01" x2="353.85" y2="162.01" stroke="#222" stroke-width="0.9" />
<line x1="347.85" y1="169.61" x2="353.85" y2="169.61" stroke="#222" stroke-width="0.9" />
<text x="350.85" y="160.01" font-size="8.6" font-weight="normal" text-anchor="middle" fill="#000" stroke="#000" stroke-width="0.2">g</text>
<rect x="54.50" y="45.20" width="2.00" height="188.80" fill="#000" />
<rect x="54.50" y="232.00" width="302.50" height="2.00" fill="#000" />
<rect x="50.00" y="231.85" width="5.00" height="1.50" fill="#000" />
<text x="48.50" y="235.80" font-size="9.5" font-weight="bold" text-anchor="end" fill="#000"  stroke="#000" stroke-width="0.3">0.0</text>
<rect x="50.00" y="185.35" width="5.00" height="1.50" fill="#000" />
<text x="48.50" y="189.30" font-size="9.5" font-weight="bold" text-anchor="end" fill="#000"  stroke="#000" stroke-width="0.3">0.2</text>
<rect x="50.00" y="138.85" width="5.00" height="1.50" fill="#000" />
<text x="48.50" y="142.80" font-size="9.5" font-weight="bold" text-anchor="end" fill="#000"  stroke="#000" stroke-width="0.3">0.4</text>
<rect x="50.00" y="92.35" width="5.00" height="1.50" fill="#000" />
<text x="48.50" y="96.30" font-size="9.5" font-weight="bold" text-anchor="end" fill="#000"  stroke="#000" stroke-width="0.3">0.6</text>
<rect x="50.00" y="45.85" width="5.00" height="1.50" fill="#000" />
<text x="48.50" y="49.80" font-size="9.5" font-weight="bold" text-anchor="end" fill="#000"  stroke="#000" stroke-width="0.3">0.8</text>
<rect x="98.85" y="233.00" width="1.50" height="4.80" fill="#000" />
<text x="99.60" y="248.30" font-size="9.5" font-weight="bold" text-anchor="middle" fill="#000"  stroke="#000" stroke-width="0.3">6</text>
<rect x="206.95" y="233.00" width="1.50" height="4.80" fill="#000" />
<text x="207.70" y="248.30" font-size="9.5" font-weight="bold" text-anchor="middle" fill="#000"  stroke="#000" stroke-width="0.3">12</text>
<rect x="315.05" y="233.00" width="1.50" height="4.80" fill="#000" />
<text x="315.80" y="248.30" font-size="9.5" font-weight="bold" text-anchor="middle" fill="#000"  stroke="#000" stroke-width="0.3">24</text>
<text x="206.00" y="267.20" font-size="12.5" font-weight="bold" text-anchor="middle" fill="#000"  stroke="#000" stroke-width="0.3">Time/h</text>
<g transform="translate(30.3,156.3) rotate(-90)">
<text x="0.00" y="0.00" font-size="12.5" font-weight="bold" text-anchor="start" fill="#000"  stroke="#000" stroke-width="0.3">OD <tspan font-size="6.8" dy="0.3">600</tspan></text>
</g>
<rect x="382.90" y="51.30" width="12.80" height="3.60" fill="#000000" />
<text x="403.00" y="55.60" font-size="7.8" font-weight="normal" text-anchor="start" fill="#111" >Control</text>
<rect x="382.90" y="64.92" width="12.80" height="3.60" fill="#8A8ECC" />
<text x="403.00" y="69.22" font-size="7.8" font-weight="normal" text-anchor="start" fill="#111" >0.25 mg/mL</text>
<rect x="382.90" y="78.54" width="12.80" height="3.60" fill="#F0B27A" />
<text x="403.00" y="82.84" font-size="7.8" font-weight="normal" text-anchor="start" fill="#111" >0.5mg/mL</text>
<rect x="382.90" y="92.16" width="12.80" height="3.60" fill="#F44040" />
<text x="403.00" y="96.46" font-size="7.8" font-weight="normal" text-anchor="start" fill="#111" >1 mg/mL</text>
<rect x="382.90" y="105.78" width="12.80" height="3.60" fill="#A8D8A8" />
<text x="403.00" y="110.08" font-size="7.8" font-weight="normal" text-anchor="start" fill="#111" >2 mg/mL</text>
<rect x="382.90" y="119.40" width="12.80" height="3.60" fill="#8CBAF4" />
<text x="403.00" y="123.70" font-size="7.8" font-weight="normal" text-anchor="start" fill="#111" >4 mg/mL</text>
<rect x="382.90" y="133.02" width="12.80" height="3.60" fill="#BCAE6E" />
<text x="403.00" y="137.32" font-size="7.8" font-weight="normal" text-anchor="start" fill="#111" >8 mg/mL</text>
<rect x="382.90" y="146.64" width="12.80" height="3.60" fill="#9E9C9E" />
<text x="403.00" y="150.94" font-size="7.8" font-weight="normal" text-anchor="start" fill="#111" >16 mg/mL</text>
<rect x="251.00" y="343.60" width="25.60" height="143.00" fill="#000" />
<line x1="263.80" y1="330.60" x2="263.80" y2="356.60" stroke="#3a3a3a" stroke-width="1.15" />
<line x1="260.60" y1="330.60" x2="267.00" y2="330.60" stroke="#3a3a3a" stroke-width="1.15" />
<line x1="260.60" y1="356.60" x2="267.00" y2="356.60" stroke="#3a3a3a" stroke-width="1.15" />
<text x="263.80" y="328.40" font-size="9.3" font-weight="normal" text-anchor="middle" fill="#000" stroke="#000" stroke-width="0.2">a</text>
<rect x="263.05" y="487.00" width="1.50" height="4.60" fill="#000" />
<text x="263.80" y="501.00" font-size="9" font-weight="bold" text-anchor="middle" fill="#000"  stroke="#000" stroke-width="0.3">Control</text>
<rect x="281.62" y="387.93" width="25.60" height="98.67" fill="#000" />
<line x1="294.42" y1="377.93" x2="294.42" y2="397.93" stroke="#3a3a3a" stroke-width="1.15" />
<line x1="291.22" y1="377.93" x2="297.62" y2="377.93" stroke="#3a3a3a" stroke-width="1.15" />
<line x1="291.22" y1="397.93" x2="297.62" y2="397.93" stroke="#3a3a3a" stroke-width="1.15" />
<text x="294.42" y="375.73" font-size="9.3" font-weight="normal" text-anchor="middle" fill="#000" stroke="#000" stroke-width="0.2">b</text>
<rect x="293.67" y="487.00" width="1.50" height="4.60" fill="#000" />
<text x="294.42" y="501.00" font-size="9" font-weight="bold" text-anchor="middle" fill="#000"  stroke="#000" stroke-width="0.3">0.0625</text>
<rect x="312.24" y="427.25" width="25.60" height="59.35" fill="#000" />
<line x1="325.04" y1="423.56" x2="325.04" y2="430.95" stroke="#3a3a3a" stroke-width="1.15" />
<line x1="321.84" y1="423.56" x2="328.24" y2="423.56" stroke="#3a3a3a" stroke-width="1.15" />
<line x1="321.84" y1="430.95" x2="328.24" y2="430.95" stroke="#3a3a3a" stroke-width="1.15" />
<text x="325.04" y="421.36" font-size="9.3" font-weight="normal" text-anchor="middle" fill="#000" stroke="#000" stroke-width="0.2">c</text>
<rect x="324.29" y="487.00" width="1.50" height="4.60" fill="#000" />
<text x="325.04" y="501.00" font-size="9" font-weight="bold" text-anchor="middle" fill="#000"  stroke="#000" stroke-width="0.3">0.125</text>
<rect x="342.86" y="443.70" width="25.60" height="42.90" fill="#000" />
<line x1="355.66" y1="442.70" x2="355.66" y2="444.70" stroke="#3a3a3a" stroke-width="1.15" />
<line x1="352.46" y1="442.70" x2="358.86" y2="442.70" stroke="#3a3a3a" stroke-width="1.15" />
<line x1="352.46" y1="444.70" x2="358.86" y2="444.70" stroke="#3a3a3a" stroke-width="1.15" />
<text x="355.66" y="440.50" font-size="9.3" font-weight="normal" text-anchor="middle" fill="#000" stroke="#000" stroke-width="0.2">d</text>
<rect x="354.91" y="487.00" width="1.50" height="4.60" fill="#000" />
<text x="355.66" y="501.00" font-size="9" font-weight="bold" text-anchor="middle" fill="#000"  stroke="#000" stroke-width="0.3">0.25</text>
<rect x="373.48" y="445.99" width="25.60" height="40.61" fill="#000" />
<line x1="386.28" y1="445.39" x2="386.28" y2="446.59" stroke="#3a3a3a" stroke-width="1.15" />
<line x1="383.08" y1="445.39" x2="389.48" y2="445.39" stroke="#3a3a3a" stroke-width="1.15" />
<line x1="383.08" y1="446.59" x2="389.48" y2="446.59" stroke="#3a3a3a" stroke-width="1.15" />
<text x="386.28" y="443.19" font-size="9.3" font-weight="normal" text-anchor="middle" fill="#000" stroke="#000" stroke-width="0.2">d</text>
<rect x="385.53" y="487.00" width="1.50" height="4.60" fill="#000" />
<text x="386.28" y="501.00" font-size="9" font-weight="bold" text-anchor="middle" fill="#000"  stroke="#000" stroke-width="0.3">0.5</text>
<rect x="404.10" y="446.99" width="25.60" height="39.61" fill="#000" />
<line x1="416.90" y1="445.99" x2="416.90" y2="447.99" stroke="#3a3a3a" stroke-width="1.15" />
<line x1="413.70" y1="445.99" x2="420.10" y2="445.99" stroke="#3a3a3a" stroke-width="1.15" />
<line x1="413.70" y1="447.99" x2="420.10" y2="447.99" stroke="#3a3a3a" stroke-width="1.15" />
<text x="416.90" y="443.79" font-size="9.3" font-weight="normal" text-anchor="middle" fill="#000" stroke="#000" stroke-width="0.2">d</text>
<rect x="416.15" y="487.00" width="1.50" height="4.60" fill="#000" />
<text x="416.90" y="501.00" font-size="9" font-weight="bold" text-anchor="middle" fill="#000"  stroke="#000" stroke-width="0.3">1</text>
<rect x="244.90" y="313.60" width="2.00" height="174.00" fill="#000" />
<rect x="244.90" y="485.60" width="191.00" height="2.00" fill="#000" />
<rect x="240.50" y="485.85" width="5.00" height="1.50" fill="#000" />
<text x="239.30" y="489.40" font-size="8.5" font-weight="bold" text-anchor="end" fill="#000"  stroke="#000" stroke-width="0.3">0</text>
<rect x="240.50" y="457.25" width="5.00" height="1.50" fill="#000" />
<text x="239.30" y="460.80" font-size="8.5" font-weight="bold" text-anchor="end" fill="#000"  stroke="#000" stroke-width="0.3">20</text>
<rect x="240.50" y="428.65" width="5.00" height="1.50" fill="#000" />
<text x="239.30" y="432.20" font-size="8.5" font-weight="bold" text-anchor="end" fill="#000"  stroke="#000" stroke-width="0.3">40</text>
<rect x="240.50" y="400.05" width="5.00" height="1.50" fill="#000" />
<text x="239.30" y="403.60" font-size="8.5" font-weight="bold" text-anchor="end" fill="#000"  stroke="#000" stroke-width="0.3">60</text>
<rect x="240.50" y="371.45" width="5.00" height="1.50" fill="#000" />
<text x="239.30" y="375.00" font-size="8.5" font-weight="bold" text-anchor="end" fill="#000"  stroke="#000" stroke-width="0.3">80</text>
<rect x="240.50" y="342.85" width="5.00" height="1.50" fill="#000" />
<text x="239.30" y="346.40" font-size="8.5" font-weight="bold" text-anchor="end" fill="#000"  stroke="#000" stroke-width="0.3">100</text>
<rect x="240.50" y="314.25" width="5.00" height="1.50" fill="#000" />
<text x="239.30" y="317.80" font-size="8.5" font-weight="bold" text-anchor="end" fill="#000"  stroke="#000" stroke-width="0.3">120</text>
<text x="340.50" y="514.00" font-size="9" font-weight="bold" text-anchor="middle" fill="#000"  stroke="#000" stroke-width="0.3">Concentration of rhamnolipid (mg/mL)</text>
<g transform="translate(219.6,399.8) rotate(-90)">
<text x="0.00" y="0.00" font-size="9.2" font-weight="bold" text-anchor="middle" fill="#000"  stroke="#000" stroke-width="0.3">Biofilm formation (%)</text>
</g>
</svg>
</body></html>
